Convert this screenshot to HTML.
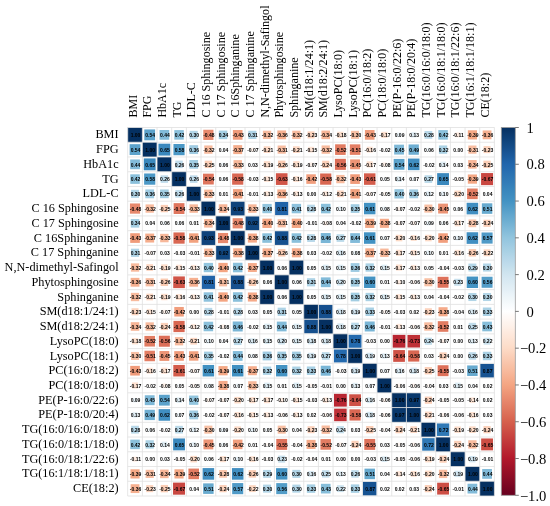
<!DOCTYPE html><html><head><meta charset="utf-8"><style>html,body{margin:0;padding:0;background:#fff;}svg{display:block;}.lab{font-family:"Liberation Serif",serif;font-size:12.25px;fill:#000;}.num{font-family:"Liberation Sans",sans-serif;font-size:5.0px;font-weight:bold;fill:#000;text-anchor:middle;}.cl{font-family:"Liberation Serif",serif;font-size:14.6px;fill:#000;}</style></head><body>
<svg width="550" height="506" viewBox="0 0 550 506">
<rect x="0" y="0" width="550" height="506" fill="#fff"/>
<rect x="127.70" y="127.50" width="14.67" height="14.74" fill="#053061"/><rect x="144.31" y="129.45" width="10.78" height="10.83" fill="#5ba2cb"/><rect x="159.51" y="129.98" width="9.73" height="9.78" fill="#82bbd9"/><rect x="174.29" y="130.09" width="9.51" height="9.55" fill="#8ac0db"/><rect x="189.69" y="130.83" width="8.03" height="8.07" fill="#b2d5e7"/><rect x="203.29" y="129.76" width="10.16" height="10.21" fill="#e8896d"/><rect x="218.77" y="130.57" width="8.55" height="8.59" fill="#a5cfe3"/><rect x="232.90" y="130.04" width="9.62" height="9.67" fill="#f09b7a"/><rect x="248.29" y="130.77" width="8.17" height="8.21" fill="#aed3e6"/><rect x="262.90" y="130.70" width="8.30" height="8.34" fill="#f8bb9e"/><rect x="277.31" y="130.45" width="8.80" height="8.84" fill="#f6b090"/><rect x="292.23" y="130.70" width="8.30" height="8.34" fill="#f8bb9e"/><rect x="307.53" y="131.34" width="7.03" height="7.07" fill="#fcd3bd"/><rect x="321.44" y="130.57" width="8.55" height="8.59" fill="#f7b597"/><rect x="337.27" y="131.74" width="6.22" height="6.25" fill="#fddfcd"/><rect x="351.04" y="130.83" width="8.03" height="8.07" fill="#f8c0a4"/><rect x="364.91" y="130.04" width="9.62" height="9.67" fill="#f09b7a"/><rect x="381.37" y="131.83" width="6.05" height="6.08" fill="#fde0cf"/><rect x="396.86" y="132.66" width="4.40" height="4.42" fill="#eaf3f8"/><rect x="411.08" y="132.21" width="5.29" height="5.31" fill="#e1eef5"/><rect x="424.51" y="130.97" width="7.76" height="7.80" fill="#b8d8e9"/><rect x="438.31" y="130.09" width="9.51" height="9.55" fill="#8ac0db"/><rect x="455.30" y="132.43" width="4.86" height="4.89" fill="#feebe0"/><rect x="467.82" y="130.27" width="9.16" height="9.21" fill="#f4a885"/><rect x="482.67" y="130.45" width="8.80" height="8.84" fill="#f6b090"/><rect x="129.64" y="144.19" width="10.78" height="10.83" fill="#5ba2cb"/><rect x="142.37" y="142.24" width="14.67" height="14.74" fill="#053061"/><rect x="158.46" y="143.67" width="11.83" height="11.88" fill="#3a88bd"/><rect x="173.45" y="144.00" width="11.17" height="11.23" fill="#4b98c6"/><rect x="189.31" y="145.19" width="8.80" height="8.84" fill="#9fcbe2"/><rect x="204.23" y="145.44" width="8.30" height="8.34" fill="#f8bb9e"/><rect x="221.58" y="148.14" width="2.93" height="2.95" fill="#f6fafc"/><rect x="233.25" y="145.13" width="8.92" height="8.97" fill="#f5ad8c"/><rect x="250.44" y="147.66" width="3.88" height="3.90" fill="#fef2eb"/><rect x="263.69" y="146.23" width="6.72" height="6.75" fill="#fdd8c4"/><rect x="277.63" y="145.51" width="8.17" height="8.21" fill="#f8bda1"/><rect x="293.02" y="146.23" width="6.72" height="6.75" fill="#fdd8c4"/><rect x="308.21" y="146.76" width="5.68" height="5.71" fill="#fee4d5"/><rect x="321.57" y="145.44" width="8.30" height="8.34" fill="#f8bb9e"/><rect x="335.10" y="144.30" width="10.58" height="10.63" fill="#e27c62"/><rect x="349.82" y="144.35" width="10.48" height="10.53" fill="#e47f65"/><rect x="366.79" y="146.66" width="5.87" height="5.90" fill="#fde2d2"/><rect x="383.35" y="148.57" width="2.07" height="2.08" fill="#fffbf9"/><rect x="394.14" y="144.67" width="9.84" height="9.89" fill="#7eb8d7"/><rect x="408.59" y="144.45" width="10.27" height="10.32" fill="#6eaed2"/><rect x="426.60" y="147.80" width="3.59" height="3.61" fill="#f1f7fa"/><rect x="438.91" y="145.44" width="8.30" height="8.34" fill="#abd2e5"/><rect x="468.31" y="145.51" width="8.17" height="8.21" fill="#f8bda1"/><rect x="483.55" y="146.08" width="7.03" height="7.07" fill="#fcd3bd"/><rect x="130.17" y="159.46" width="9.73" height="9.78" fill="#82bbd9"/><rect x="143.79" y="158.41" width="11.83" height="11.88" fill="#3a88bd"/><rect x="157.04" y="156.98" width="14.67" height="14.74" fill="#053061"/><rect x="175.30" y="160.59" width="7.48" height="7.52" fill="#bedbeb"/><rect x="189.37" y="159.99" width="8.68" height="8.72" fill="#a2cde2"/><rect x="204.71" y="160.66" width="7.33" height="7.37" fill="#fbceb6"/><rect x="221.25" y="162.54" width="3.59" height="3.61" fill="#f1f7fa"/><rect x="233.50" y="160.12" width="8.43" height="8.47" fill="#f7b89a"/><rect x="251.11" y="163.07" width="2.54" height="2.55" fill="#f8fbfd"/><rect x="263.85" y="161.14" width="6.39" height="6.43" fill="#fdddca"/><rect x="277.97" y="160.59" width="7.48" height="7.52" fill="#facbb2"/><rect x="293.19" y="161.14" width="6.39" height="6.43" fill="#fdddca"/><rect x="309.11" y="162.40" width="3.88" height="3.90" fill="#fef2eb"/><rect x="322.13" y="160.74" width="7.19" height="7.22" fill="#fbd0b9"/><rect x="334.90" y="158.83" width="10.98" height="11.03" fill="#dc6e58"/><rect x="350.13" y="159.41" width="9.84" height="9.89" fill="#ec9475"/><rect x="366.70" y="161.31" width="6.05" height="6.08" fill="#fde0cf"/><rect x="382.32" y="162.27" width="4.15" height="4.17" fill="#fef1e9"/><rect x="393.67" y="158.93" width="10.78" height="10.83" fill="#5ba2cb"/><rect x="407.95" y="158.55" width="11.55" height="11.61" fill="#408ec1"/><rect x="427.36" y="163.31" width="2.07" height="2.08" fill="#fffbf9"/><rect x="440.32" y="161.59" width="5.49" height="5.52" fill="#dfedf4"/><rect x="456.46" y="163.07" width="2.54" height="2.55" fill="#f8fbfd"/><rect x="468.12" y="160.05" width="8.55" height="8.59" fill="#f7b597"/><rect x="483.40" y="160.66" width="7.33" height="7.37" fill="#fbceb6"/><rect x="130.28" y="174.31" width="9.51" height="9.55" fill="#8ac0db"/><rect x="144.12" y="173.48" width="11.17" height="11.23" fill="#4b98c6"/><rect x="160.63" y="175.33" width="7.48" height="7.52" fill="#bedbeb"/><rect x="171.70" y="171.72" width="14.67" height="14.74" fill="#053061"/><rect x="189.97" y="175.33" width="7.48" height="7.52" fill="#bedbeb"/><rect x="202.98" y="173.67" width="10.78" height="10.83" fill="#df755d"/><rect x="221.25" y="177.28" width="3.59" height="3.61" fill="#f1f7fa"/><rect x="232.12" y="173.48" width="11.17" height="11.23" fill="#d96752"/><rect x="251.11" y="177.81" width="2.54" height="2.55" fill="#fffaf7"/><rect x="264.21" y="176.24" width="5.68" height="5.71" fill="#fee4d5"/><rect x="275.89" y="173.24" width="11.64" height="11.70" fill="#d15548"/><rect x="293.45" y="176.14" width="5.87" height="5.90" fill="#fde2d2"/><rect x="306.30" y="174.31" width="9.51" height="9.55" fill="#f19e7d"/><rect x="320.13" y="173.48" width="11.17" height="11.23" fill="#d96752"/><rect x="336.24" y="174.92" width="8.30" height="8.34" fill="#f8bb9e"/><rect x="350.24" y="174.26" width="9.62" height="9.67" fill="#f09b7a"/><rect x="363.99" y="173.33" width="11.46" height="11.51" fill="#d45c4b"/><rect x="382.75" y="177.44" width="3.28" height="3.30" fill="#f4f8fb"/><rect x="396.31" y="176.33" width="5.49" height="5.52" fill="#dfedf4"/><rect x="411.79" y="177.14" width="3.88" height="3.90" fill="#eff6fa"/><rect x="424.58" y="175.26" width="7.62" height="7.66" fill="#bbdaea"/><rect x="437.15" y="173.15" width="11.83" height="11.88" fill="#3a88bd"/><rect x="456.09" y="177.44" width="3.28" height="3.30" fill="#fef6f1"/><rect x="467.82" y="174.49" width="9.16" height="9.21" fill="#f4a885"/><rect x="481.06" y="173.06" width="12.01" height="12.07" fill="#c94741"/><rect x="131.02" y="189.79" width="8.03" height="8.07" fill="#b2d5e7"/><rect x="145.30" y="189.41" width="8.80" height="8.84" fill="#9fcbe2"/><rect x="160.03" y="189.47" width="8.68" height="8.72" fill="#a2cde2"/><rect x="175.30" y="190.07" width="7.48" height="7.52" fill="#bedbeb"/><rect x="186.37" y="186.46" width="14.67" height="14.74" fill="#053061"/><rect x="204.16" y="189.60" width="8.43" height="8.47" fill="#f7b89a"/><rect x="222.31" y="193.09" width="1.47" height="1.47" fill="#fdfefe"/><rect x="233.01" y="189.11" width="9.39" height="9.44" fill="#f2a27f"/><rect x="251.64" y="193.09" width="1.47" height="1.47" fill="#fffdfc"/><rect x="264.40" y="191.17" width="5.29" height="5.31" fill="#fee8db"/><rect x="277.31" y="189.41" width="8.80" height="8.84" fill="#f6b090"/><rect x="293.74" y="191.17" width="5.29" height="5.31" fill="#fee8db"/><rect x="323.18" y="191.28" width="5.08" height="5.11" fill="#fee9dd"/><rect x="337.03" y="190.45" width="6.72" height="6.75" fill="#fdd8c4"/><rect x="350.36" y="189.11" width="9.39" height="9.44" fill="#f2a27f"/><rect x="367.78" y="191.88" width="3.88" height="3.90" fill="#fef2eb"/><rect x="382.75" y="192.18" width="3.28" height="3.30" fill="#fef6f1"/><rect x="394.42" y="189.17" width="9.28" height="9.32" fill="#92c5de"/><rect x="409.33" y="189.41" width="8.80" height="8.84" fill="#9fcbe2"/><rect x="425.85" y="191.28" width="5.08" height="5.11" fill="#e3eff6"/><rect x="440.74" y="191.50" width="4.64" height="4.66" fill="#e8f2f8"/><rect x="454.45" y="190.53" width="6.56" height="6.59" fill="#fddbc7"/><rect x="467.11" y="188.52" width="10.58" height="10.63" fill="#e27c62"/><rect x="485.60" y="192.36" width="2.93" height="2.95" fill="#f6fafc"/><rect x="129.95" y="203.46" width="10.16" height="10.21" fill="#e8896d"/><rect x="145.55" y="204.40" width="8.30" height="8.34" fill="#f8bb9e"/><rect x="160.70" y="204.88" width="7.33" height="7.37" fill="#fbceb6"/><rect x="173.65" y="203.15" width="10.78" height="10.83" fill="#df755d"/><rect x="189.49" y="204.34" width="8.43" height="8.47" fill="#f7b89a"/><rect x="201.04" y="201.20" width="14.67" height="14.74" fill="#053061"/><rect x="218.77" y="204.27" width="8.55" height="8.59" fill="#f7b597"/><rect x="230.64" y="201.46" width="14.15" height="14.21" fill="#0f437b"/><rect x="248.16" y="204.34" width="8.43" height="8.47" fill="#f7b89a"/><rect x="262.41" y="203.91" width="9.28" height="9.32" fill="#92c5de"/><rect x="275.11" y="201.94" width="13.20" height="13.27" fill="#2063a8"/><rect x="291.69" y="203.85" width="9.39" height="9.44" fill="#8ec2dd"/><rect x="307.17" y="204.67" width="7.76" height="7.80" fill="#b8d8e9"/><rect x="320.97" y="203.79" width="9.51" height="9.55" fill="#8ac0db"/><rect x="338.07" y="206.24" width="4.64" height="4.66" fill="#e8f2f8"/><rect x="350.72" y="204.21" width="8.68" height="8.72" fill="#a2cde2"/><rect x="363.99" y="202.81" width="11.46" height="11.51" fill="#4191c2"/><rect x="382.32" y="206.49" width="4.15" height="4.17" fill="#edf5f9"/><rect x="397.12" y="206.62" width="3.88" height="3.90" fill="#fef2eb"/><rect x="412.69" y="207.53" width="2.07" height="2.08" fill="#fffbf9"/><rect x="424.38" y="204.53" width="8.03" height="8.07" fill="#f8c0a4"/><rect x="438.14" y="203.63" width="9.84" height="9.89" fill="#ec9475"/><rect x="455.93" y="206.76" width="3.59" height="3.61" fill="#f1f7fa"/><rect x="466.62" y="202.77" width="11.55" height="11.61" fill="#408ec1"/><rect x="481.83" y="203.31" width="10.48" height="10.53" fill="#67aacf"/><rect x="130.76" y="219.01" width="8.55" height="8.59" fill="#a5cfe3"/><rect x="148.24" y="221.84" width="2.93" height="2.95" fill="#f6fafc"/><rect x="162.57" y="221.50" width="3.59" height="3.61" fill="#f1f7fa"/><rect x="177.24" y="221.50" width="3.59" height="3.61" fill="#f1f7fa"/><rect x="192.97" y="222.57" width="1.47" height="1.47" fill="#fdfefe"/><rect x="204.10" y="219.01" width="8.55" height="8.59" fill="#f7b597"/><rect x="215.71" y="215.94" width="14.67" height="14.74" fill="#053061"/><rect x="232.63" y="218.20" width="10.16" height="10.21" fill="#e8896d"/><rect x="245.34" y="216.24" width="14.07" height="14.14" fill="#10467f"/><rect x="262.41" y="218.65" width="9.28" height="9.32" fill="#f4a582"/><rect x="277.63" y="219.21" width="8.17" height="8.21" fill="#f8bda1"/><rect x="291.74" y="218.65" width="9.28" height="9.32" fill="#f4a582"/><rect x="310.32" y="222.57" width="1.47" height="1.47" fill="#fffdfc"/><rect x="323.64" y="221.23" width="4.15" height="4.17" fill="#fef1e9"/><rect x="338.92" y="221.84" width="2.93" height="2.95" fill="#f6fafc"/><rect x="354.02" y="222.27" width="2.07" height="2.08" fill="#fffbf9"/><rect x="365.14" y="218.71" width="9.16" height="9.21" fill="#f4a885"/><rect x="379.87" y="218.77" width="9.04" height="9.09" fill="#f5aa89"/><rect x="397.12" y="221.36" width="3.88" height="3.90" fill="#fef2eb"/><rect x="411.79" y="221.36" width="3.88" height="3.90" fill="#fef2eb"/><rect x="426.19" y="221.10" width="4.40" height="4.42" fill="#eaf3f8"/><rect x="441.27" y="221.50" width="3.59" height="3.61" fill="#f1f7fa"/><rect x="454.71" y="220.27" width="6.05" height="6.08" fill="#fde0cf"/><rect x="468.52" y="219.41" width="7.76" height="7.80" fill="#f9c5ab"/><rect x="483.47" y="219.70" width="7.19" height="7.22" fill="#fbd0b9"/><rect x="130.22" y="233.22" width="9.62" height="9.67" fill="#f09b7a"/><rect x="145.24" y="233.57" width="8.92" height="8.97" fill="#f5ad8c"/><rect x="160.16" y="233.82" width="8.43" height="8.47" fill="#f7b89a"/><rect x="173.45" y="232.44" width="11.17" height="11.23" fill="#d96752"/><rect x="189.01" y="233.33" width="9.39" height="9.44" fill="#f2a27f"/><rect x="201.30" y="230.94" width="14.15" height="14.21" fill="#0f437b"/><rect x="217.96" y="232.94" width="10.16" height="10.21" fill="#e8896d"/><rect x="230.38" y="230.68" width="14.67" height="14.74" fill="#053061"/><rect x="247.86" y="233.51" width="9.04" height="9.09" fill="#f5aa89"/><rect x="262.29" y="233.27" width="9.51" height="9.55" fill="#8ac0db"/><rect x="274.83" y="231.14" width="13.76" height="13.83" fill="#16508e"/><rect x="291.63" y="233.27" width="9.51" height="9.55" fill="#8ac0db"/><rect x="307.17" y="234.15" width="7.76" height="7.80" fill="#b8d8e9"/><rect x="320.74" y="233.05" width="9.95" height="10.00" fill="#7ab6d6"/><rect x="336.58" y="234.22" width="7.62" height="7.66" fill="#bbdaea"/><rect x="350.19" y="233.16" width="9.73" height="9.78" fill="#82bbd9"/><rect x="363.99" y="232.29" width="11.46" height="11.51" fill="#4191c2"/><rect x="382.45" y="236.10" width="3.88" height="3.90" fill="#eff6fa"/><rect x="395.78" y="234.75" width="6.56" height="6.59" fill="#fddbc7"/><rect x="410.79" y="235.10" width="5.87" height="5.90" fill="#fde2d2"/><rect x="425.11" y="234.75" width="6.56" height="6.59" fill="#fddbc7"/><rect x="438.31" y="233.27" width="9.51" height="9.55" fill="#f19e7d"/><rect x="455.41" y="235.72" width="4.64" height="4.66" fill="#e8f2f8"/><rect x="466.62" y="232.25" width="11.55" height="11.61" fill="#408ec1"/><rect x="481.53" y="232.49" width="11.07" height="11.13" fill="#4f9ac7"/><rect x="130.95" y="248.69" width="8.17" height="8.21" fill="#aed3e6"/><rect x="147.76" y="250.84" width="3.88" height="3.90" fill="#fef2eb"/><rect x="163.10" y="251.51" width="2.54" height="2.55" fill="#f8fbfd"/><rect x="177.77" y="251.51" width="2.54" height="2.55" fill="#fffaf7"/><rect x="192.97" y="252.05" width="1.47" height="1.47" fill="#fffdfc"/><rect x="204.16" y="248.56" width="8.43" height="8.47" fill="#f7b89a"/><rect x="216.01" y="245.72" width="14.07" height="14.14" fill="#10467f"/><rect x="233.19" y="248.25" width="9.04" height="9.09" fill="#f5aa89"/><rect x="245.04" y="245.42" width="14.67" height="14.74" fill="#053061"/><rect x="262.58" y="248.31" width="8.92" height="8.97" fill="#f5ad8c"/><rect x="277.97" y="249.03" width="7.48" height="7.52" fill="#facbb2"/><rect x="291.86" y="248.25" width="9.04" height="9.09" fill="#f5aa89"/><rect x="309.78" y="251.51" width="2.54" height="2.55" fill="#f8fbfd"/><rect x="324.68" y="251.75" width="2.07" height="2.08" fill="#fffbf9"/><rect x="337.45" y="249.84" width="5.87" height="5.90" fill="#daeaf3"/><rect x="352.98" y="250.71" width="4.15" height="4.17" fill="#edf5f9"/><rect x="365.26" y="248.31" width="8.92" height="8.97" fill="#f5ad8c"/><rect x="380.18" y="248.56" width="8.43" height="8.47" fill="#f7b89a"/><rect x="396.03" y="249.75" width="6.05" height="6.08" fill="#fde0cf"/><rect x="410.89" y="249.94" width="5.68" height="5.71" fill="#fee4d5"/><rect x="426.07" y="250.46" width="4.64" height="4.66" fill="#e8f2f8"/><rect x="442.33" y="252.05" width="1.47" height="1.47" fill="#fdfefe"/><rect x="454.80" y="249.84" width="5.87" height="5.90" fill="#fde2d2"/><rect x="468.66" y="249.03" width="7.48" height="7.52" fill="#facbb2"/><rect x="483.63" y="249.33" width="6.88" height="6.91" fill="#fcd6c0"/><rect x="130.89" y="263.36" width="8.30" height="8.34" fill="#f8bb9e"/><rect x="146.34" y="264.15" width="6.72" height="6.75" fill="#fdd8c4"/><rect x="161.17" y="264.32" width="6.39" height="6.43" fill="#fdddca"/><rect x="176.20" y="264.68" width="5.68" height="5.71" fill="#fee4d5"/><rect x="191.06" y="264.87" width="5.29" height="5.31" fill="#fee8db"/><rect x="203.74" y="262.87" width="9.28" height="9.32" fill="#92c5de"/><rect x="218.40" y="262.87" width="9.28" height="9.32" fill="#f4a582"/><rect x="232.96" y="262.75" width="9.51" height="9.55" fill="#8ac0db"/><rect x="247.92" y="263.05" width="8.92" height="8.97" fill="#f5ad8c"/><rect x="259.71" y="260.16" width="14.67" height="14.74" fill="#053061"/><rect x="279.92" y="265.72" width="3.59" height="3.61" fill="#f1f7fa"/><rect x="289.05" y="260.16" width="14.67" height="14.74" fill="#053061"/><rect x="309.41" y="265.88" width="3.28" height="3.30" fill="#f4f8fb"/><rect x="322.88" y="264.68" width="5.68" height="5.71" fill="#dcecf4"/><rect x="337.55" y="264.68" width="5.68" height="5.71" fill="#dcecf4"/><rect x="350.65" y="263.11" width="8.80" height="8.84" fill="#9fcbe2"/><rect x="365.57" y="263.36" width="8.30" height="8.34" fill="#abd2e5"/><rect x="381.55" y="264.68" width="5.68" height="5.71" fill="#dcecf4"/><rect x="396.03" y="264.49" width="6.05" height="6.08" fill="#fde0cf"/><rect x="411.08" y="264.87" width="5.29" height="5.31" fill="#fee8db"/><rect x="426.75" y="265.88" width="3.28" height="3.30" fill="#f4f8fb"/><rect x="441.60" y="266.06" width="2.93" height="2.95" fill="#fff8f4"/><rect x="456.46" y="266.25" width="2.54" height="2.55" fill="#fffaf7"/><rect x="468.45" y="263.56" width="7.90" height="7.94" fill="#b5d7e8"/><rect x="483.05" y="263.49" width="8.03" height="8.07" fill="#b2d5e7"/><rect x="130.63" y="277.85" width="8.80" height="8.84" fill="#f6b090"/><rect x="145.62" y="278.17" width="8.17" height="8.21" fill="#f8bda1"/><rect x="160.63" y="278.51" width="7.48" height="7.52" fill="#facbb2"/><rect x="173.22" y="276.42" width="11.64" height="11.70" fill="#d15548"/><rect x="189.31" y="277.85" width="8.80" height="8.84" fill="#f6b090"/><rect x="201.77" y="275.64" width="13.20" height="13.27" fill="#2063a8"/><rect x="218.96" y="278.17" width="8.17" height="8.21" fill="#f8bda1"/><rect x="230.83" y="275.36" width="13.76" height="13.83" fill="#16508e"/><rect x="248.64" y="278.51" width="7.48" height="7.52" fill="#facbb2"/><rect x="265.25" y="280.46" width="3.59" height="3.61" fill="#f1f7fa"/><rect x="274.38" y="274.90" width="14.67" height="14.74" fill="#053061"/><rect x="294.59" y="280.46" width="3.59" height="3.61" fill="#f1f7fa"/><rect x="306.97" y="278.17" width="8.17" height="8.21" fill="#aed3e6"/><rect x="320.85" y="277.38" width="9.73" height="9.78" fill="#82bbd9"/><rect x="337.11" y="278.97" width="6.56" height="6.59" fill="#d1e5f0"/><rect x="350.72" y="277.91" width="8.68" height="8.72" fill="#a2cde2"/><rect x="364.04" y="276.56" width="11.36" height="11.42" fill="#4393c3"/><rect x="383.66" y="281.53" width="1.47" height="1.47" fill="#fdfefe"/><rect x="396.74" y="279.94" width="4.64" height="4.66" fill="#feede3"/><rect x="411.93" y="280.46" width="3.59" height="3.61" fill="#fef4ee"/><rect x="424.38" y="278.23" width="8.03" height="8.07" fill="#f8c0a4"/><rect x="437.62" y="276.80" width="10.88" height="10.93" fill="#de715a"/><rect x="454.21" y="278.74" width="7.03" height="7.07" fill="#c8e0ed"/><rect x="466.72" y="276.56" width="11.36" height="11.42" fill="#4393c3"/><rect x="481.58" y="276.75" width="10.98" height="11.03" fill="#539dc8"/><rect x="130.89" y="292.84" width="8.30" height="8.34" fill="#f8bb9e"/><rect x="146.34" y="293.63" width="6.72" height="6.75" fill="#fdd8c4"/><rect x="161.17" y="293.80" width="6.39" height="6.43" fill="#fdddca"/><rect x="176.10" y="294.06" width="5.87" height="5.90" fill="#fde2d2"/><rect x="191.06" y="294.35" width="5.29" height="5.31" fill="#fee8db"/><rect x="203.68" y="292.29" width="9.39" height="9.44" fill="#8ec2dd"/><rect x="218.40" y="292.35" width="9.28" height="9.32" fill="#f4a582"/><rect x="232.96" y="292.23" width="9.51" height="9.55" fill="#8ac0db"/><rect x="247.86" y="292.47" width="9.04" height="9.09" fill="#f5aa89"/><rect x="259.71" y="289.64" width="14.67" height="14.74" fill="#053061"/><rect x="279.92" y="295.20" width="3.59" height="3.61" fill="#f1f7fa"/><rect x="289.05" y="289.64" width="14.67" height="14.74" fill="#053061"/><rect x="309.41" y="295.36" width="3.28" height="3.30" fill="#f4f8fb"/><rect x="322.88" y="294.16" width="5.68" height="5.71" fill="#dcecf4"/><rect x="337.55" y="294.16" width="5.68" height="5.71" fill="#dcecf4"/><rect x="350.72" y="292.65" width="8.68" height="8.72" fill="#a2cde2"/><rect x="365.57" y="292.84" width="8.30" height="8.34" fill="#abd2e5"/><rect x="381.55" y="294.16" width="5.68" height="5.71" fill="#dcecf4"/><rect x="396.22" y="294.16" width="5.68" height="5.71" fill="#fee4d5"/><rect x="411.08" y="294.35" width="5.29" height="5.31" fill="#fee8db"/><rect x="426.93" y="295.54" width="2.93" height="2.95" fill="#f6fafc"/><rect x="441.60" y="295.54" width="2.93" height="2.95" fill="#fff8f4"/><rect x="456.69" y="295.97" width="2.07" height="2.08" fill="#fffbf9"/><rect x="468.38" y="292.97" width="8.03" height="8.07" fill="#b2d5e7"/><rect x="483.05" y="292.97" width="8.03" height="8.07" fill="#b2d5e7"/><rect x="131.52" y="308.22" width="7.03" height="7.07" fill="#fcd3bd"/><rect x="146.86" y="308.90" width="5.68" height="5.71" fill="#fee4d5"/><rect x="162.43" y="309.80" width="3.88" height="3.90" fill="#fef2eb"/><rect x="174.29" y="306.97" width="9.51" height="9.55" fill="#f19e7d"/><rect x="204.49" y="307.85" width="7.76" height="7.80" fill="#b8d8e9"/><rect x="222.31" y="311.01" width="1.47" height="1.47" fill="#fffdfc"/><rect x="233.83" y="307.85" width="7.76" height="7.80" fill="#b8d8e9"/><rect x="251.11" y="310.47" width="2.54" height="2.55" fill="#f8fbfd"/><rect x="265.41" y="310.10" width="3.28" height="3.30" fill="#f4f8fb"/><rect x="277.63" y="307.65" width="8.17" height="8.21" fill="#aed3e6"/><rect x="294.74" y="310.10" width="3.28" height="3.30" fill="#f4f8fb"/><rect x="303.72" y="304.38" width="14.67" height="14.74" fill="#053061"/><rect x="318.84" y="304.84" width="13.76" height="13.83" fill="#16508e"/><rect x="337.27" y="308.62" width="6.22" height="6.25" fill="#d6e8f2"/><rect x="351.86" y="308.54" width="6.39" height="6.43" fill="#d3e6f1"/><rect x="365.51" y="307.52" width="8.43" height="8.47" fill="#a8d0e4"/><rect x="382.75" y="310.10" width="3.28" height="3.30" fill="#fef6f1"/><rect x="397.79" y="310.47" width="2.54" height="2.55" fill="#fffaf7"/><rect x="412.69" y="310.71" width="2.07" height="2.08" fill="#fafcfe"/><rect x="424.88" y="308.22" width="7.03" height="7.07" fill="#fcd3bd"/><rect x="438.54" y="307.21" width="9.04" height="9.09" fill="#f5aa89"/><rect x="456.26" y="310.28" width="2.93" height="2.95" fill="#fff8f4"/><rect x="469.46" y="308.80" width="5.87" height="5.90" fill="#daeaf3"/><rect x="482.85" y="307.52" width="8.43" height="8.47" fill="#a8d0e4"/><rect x="130.76" y="322.19" width="8.55" height="8.59" fill="#f7b597"/><rect x="145.55" y="322.32" width="8.30" height="8.34" fill="#f8bb9e"/><rect x="160.78" y="322.88" width="7.19" height="7.22" fill="#fbd0b9"/><rect x="173.45" y="320.88" width="11.17" height="11.23" fill="#d96752"/><rect x="191.17" y="323.94" width="5.08" height="5.11" fill="#fee9dd"/><rect x="203.62" y="321.71" width="9.51" height="9.55" fill="#8ac0db"/><rect x="220.97" y="324.41" width="4.15" height="4.17" fill="#fef1e9"/><rect x="232.74" y="321.49" width="9.95" height="10.00" fill="#7ab6d6"/><rect x="251.34" y="325.45" width="2.07" height="2.08" fill="#fffbf9"/><rect x="264.21" y="323.64" width="5.68" height="5.71" fill="#dcecf4"/><rect x="276.85" y="321.60" width="9.73" height="9.78" fill="#82bbd9"/><rect x="293.54" y="323.64" width="5.68" height="5.71" fill="#dcecf4"/><rect x="304.17" y="319.58" width="13.76" height="13.83" fill="#16508e"/><rect x="318.38" y="319.12" width="14.67" height="14.74" fill="#053061"/><rect x="337.27" y="323.36" width="6.22" height="6.25" fill="#d6e8f2"/><rect x="351.24" y="322.66" width="7.62" height="7.66" fill="#bbdaea"/><rect x="364.75" y="321.49" width="9.95" height="10.00" fill="#7ab6d6"/><rect x="383.66" y="325.75" width="1.47" height="1.47" fill="#fffdfc"/><rect x="396.41" y="323.83" width="5.29" height="5.31" fill="#fee8db"/><rect x="411.93" y="324.68" width="3.59" height="3.61" fill="#fef4ee"/><rect x="424.25" y="322.32" width="8.30" height="8.34" fill="#f8bb9e"/><rect x="437.77" y="321.18" width="10.58" height="10.63" fill="#e27c62"/><rect x="457.00" y="325.75" width="1.47" height="1.47" fill="#fdfefe"/><rect x="468.73" y="322.81" width="7.33" height="7.37" fill="#c1ddec"/><rect x="482.26" y="321.66" width="9.62" height="9.67" fill="#86beda"/><rect x="131.92" y="338.10" width="6.22" height="6.25" fill="#fddfcd"/><rect x="144.41" y="335.92" width="10.58" height="10.63" fill="#e27c62"/><rect x="158.88" y="335.71" width="10.98" height="11.03" fill="#dc6e58"/><rect x="174.89" y="337.06" width="8.30" height="8.34" fill="#f8bb9e"/><rect x="190.35" y="337.85" width="6.72" height="6.75" fill="#fdd8c4"/><rect x="206.05" y="338.90" width="4.64" height="4.66" fill="#e8f2f8"/><rect x="221.58" y="339.76" width="2.93" height="2.95" fill="#f6fafc"/><rect x="233.90" y="337.40" width="7.62" height="7.66" fill="#bbdaea"/><rect x="249.44" y="338.28" width="5.87" height="5.90" fill="#daeaf3"/><rect x="264.21" y="338.38" width="5.68" height="5.71" fill="#dcecf4"/><rect x="278.43" y="337.93" width="6.56" height="6.59" fill="#d1e5f0"/><rect x="293.54" y="338.38" width="5.68" height="5.71" fill="#dcecf4"/><rect x="307.94" y="338.10" width="6.22" height="6.25" fill="#d6e8f2"/><rect x="322.61" y="338.10" width="6.22" height="6.25" fill="#d6e8f2"/><rect x="333.05" y="333.86" width="14.67" height="14.74" fill="#053061"/><rect x="348.58" y="334.72" width="12.95" height="13.02" fill="#246aae"/><rect x="368.45" y="339.95" width="2.54" height="2.55" fill="#fffaf7"/><rect x="392.66" y="334.80" width="12.79" height="12.85" fill="#b92632"/><rect x="407.46" y="334.93" width="12.53" height="12.59" fill="#bf3137"/><rect x="424.80" y="337.62" width="7.19" height="7.22" fill="#c4dfec"/><rect x="441.12" y="339.28" width="3.88" height="3.90" fill="#fef2eb"/><rect x="469.75" y="338.57" width="5.29" height="5.31" fill="#e1eef5"/><rect x="483.63" y="337.77" width="6.88" height="6.91" fill="#cbe2ee"/><rect x="131.02" y="351.93" width="8.03" height="8.07" fill="#f8c0a4"/><rect x="144.46" y="350.71" width="10.48" height="10.53" fill="#e47f65"/><rect x="159.45" y="351.03" width="9.84" height="9.89" fill="#ec9475"/><rect x="174.23" y="351.14" width="9.62" height="9.67" fill="#f09b7a"/><rect x="189.01" y="351.25" width="9.39" height="9.44" fill="#f2a27f"/><rect x="204.04" y="351.61" width="8.68" height="8.72" fill="#a2cde2"/><rect x="222.00" y="354.93" width="2.07" height="2.08" fill="#fffbf9"/><rect x="232.85" y="351.08" width="9.73" height="9.78" fill="#82bbd9"/><rect x="250.30" y="353.89" width="4.15" height="4.17" fill="#edf5f9"/><rect x="262.65" y="351.55" width="8.80" height="8.84" fill="#9fcbe2"/><rect x="277.38" y="351.61" width="8.68" height="8.72" fill="#a2cde2"/><rect x="292.04" y="351.61" width="8.68" height="8.72" fill="#a2cde2"/><rect x="307.85" y="352.76" width="6.39" height="6.43" fill="#d3e6f1"/><rect x="321.91" y="352.14" width="7.62" height="7.66" fill="#bbdaea"/><rect x="333.91" y="349.46" width="12.95" height="13.02" fill="#246aae"/><rect x="347.72" y="348.60" width="14.67" height="14.74" fill="#053061"/><rect x="366.53" y="352.76" width="6.39" height="6.43" fill="#d3e6f1"/><rect x="381.75" y="353.31" width="5.29" height="5.31" fill="#e1eef5"/><rect x="393.19" y="350.07" width="11.73" height="11.79" fill="#cf5246"/><rect x="408.14" y="350.36" width="11.17" height="11.23" fill="#d96752"/><rect x="427.12" y="354.69" width="2.54" height="2.55" fill="#f8fbfd"/><rect x="439.47" y="352.36" width="7.19" height="7.22" fill="#fbd0b9"/><rect x="468.66" y="352.21" width="7.48" height="7.52" fill="#bedbeb"/><rect x="482.85" y="351.74" width="8.43" height="8.47" fill="#a8d0e4"/><rect x="130.22" y="365.88" width="9.62" height="9.67" fill="#f09b7a"/><rect x="146.77" y="367.76" width="5.87" height="5.90" fill="#fde2d2"/><rect x="161.35" y="367.67" width="6.05" height="6.08" fill="#fde0cf"/><rect x="173.31" y="364.95" width="11.46" height="11.51" fill="#d45c4b"/><rect x="191.77" y="368.76" width="3.88" height="3.90" fill="#fef2eb"/><rect x="202.65" y="364.95" width="11.46" height="11.51" fill="#4191c2"/><rect x="218.46" y="366.11" width="9.16" height="9.21" fill="#f4a885"/><rect x="231.98" y="364.95" width="11.46" height="11.51" fill="#4191c2"/><rect x="247.92" y="366.23" width="8.92" height="8.97" fill="#f5ad8c"/><rect x="262.90" y="366.54" width="8.30" height="8.34" fill="#abd2e5"/><rect x="276.03" y="365.00" width="11.36" height="11.42" fill="#4393c3"/><rect x="292.23" y="366.54" width="8.30" height="8.34" fill="#abd2e5"/><rect x="306.84" y="366.48" width="8.43" height="8.47" fill="#a8d0e4"/><rect x="320.74" y="365.71" width="9.95" height="10.00" fill="#7ab6d6"/><rect x="339.12" y="369.43" width="2.54" height="2.55" fill="#fffaf7"/><rect x="351.86" y="367.50" width="6.39" height="6.43" fill="#d3e6f1"/><rect x="362.39" y="363.34" width="14.67" height="14.74" fill="#053061"/><rect x="382.45" y="368.76" width="3.88" height="3.90" fill="#eff6fa"/><rect x="396.12" y="367.76" width="5.87" height="5.90" fill="#daeaf3"/><rect x="410.61" y="367.58" width="6.22" height="6.25" fill="#d6e8f2"/><rect x="424.73" y="367.03" width="7.33" height="7.37" fill="#fbceb6"/><rect x="437.62" y="365.24" width="10.88" height="10.93" fill="#de715a"/><rect x="456.46" y="369.43" width="2.54" height="2.55" fill="#fffaf7"/><rect x="467.16" y="365.45" width="10.48" height="10.53" fill="#67aacf"/><rect x="480.23" y="363.84" width="13.68" height="13.75" fill="#175392"/><rect x="132.01" y="382.41" width="6.05" height="6.08" fill="#fde0cf"/><rect x="148.66" y="384.41" width="2.07" height="2.08" fill="#fffbf9"/><rect x="162.30" y="383.37" width="4.15" height="4.17" fill="#fef1e9"/><rect x="177.40" y="383.80" width="3.28" height="3.30" fill="#f4f8fb"/><rect x="192.07" y="383.80" width="3.28" height="3.30" fill="#fef6f1"/><rect x="206.30" y="383.37" width="4.15" height="4.17" fill="#edf5f9"/><rect x="218.52" y="380.91" width="9.04" height="9.09" fill="#f5aa89"/><rect x="235.77" y="383.50" width="3.88" height="3.90" fill="#eff6fa"/><rect x="248.16" y="381.22" width="8.43" height="8.47" fill="#f7b89a"/><rect x="264.21" y="382.60" width="5.68" height="5.71" fill="#dcecf4"/><rect x="280.98" y="384.71" width="1.47" height="1.47" fill="#fdfefe"/><rect x="293.54" y="382.60" width="5.68" height="5.71" fill="#dcecf4"/><rect x="309.41" y="383.80" width="3.28" height="3.30" fill="#fef6f1"/><rect x="324.98" y="384.71" width="1.47" height="1.47" fill="#fffdfc"/><rect x="352.41" y="382.79" width="5.29" height="5.31" fill="#e1eef5"/><rect x="367.78" y="383.50" width="3.88" height="3.90" fill="#eff6fa"/><rect x="377.06" y="378.08" width="14.67" height="14.74" fill="#053061"/><rect x="397.26" y="383.64" width="3.59" height="3.61" fill="#fef4ee"/><rect x="411.93" y="383.64" width="3.59" height="3.61" fill="#fef4ee"/><rect x="426.93" y="383.98" width="2.93" height="2.95" fill="#fff8f4"/><rect x="441.79" y="384.17" width="2.54" height="2.55" fill="#f8fbfd"/><rect x="454.89" y="382.60" width="5.68" height="5.71" fill="#dcecf4"/><rect x="470.93" y="383.98" width="2.93" height="2.95" fill="#f6fafc"/><rect x="486.03" y="384.41" width="2.07" height="2.08" fill="#fafcfe"/><rect x="132.83" y="397.98" width="4.40" height="4.42" fill="#eaf3f8"/><rect x="144.78" y="395.25" width="9.84" height="9.89" fill="#7eb8d7"/><rect x="158.98" y="394.77" width="10.78" height="10.83" fill="#5ba2cb"/><rect x="176.29" y="397.43" width="5.49" height="5.52" fill="#dfedf4"/><rect x="189.07" y="395.53" width="9.28" height="9.32" fill="#92c5de"/><rect x="206.43" y="398.24" width="3.88" height="3.90" fill="#fef2eb"/><rect x="221.10" y="398.24" width="3.88" height="3.90" fill="#fef2eb"/><rect x="234.43" y="396.89" width="6.56" height="6.59" fill="#fddbc7"/><rect x="249.35" y="397.15" width="6.05" height="6.08" fill="#fde0cf"/><rect x="264.02" y="397.15" width="6.05" height="6.08" fill="#fde0cf"/><rect x="279.39" y="397.86" width="4.64" height="4.66" fill="#feede3"/><rect x="293.54" y="397.34" width="5.68" height="5.71" fill="#fee4d5"/><rect x="309.78" y="398.91" width="2.54" height="2.55" fill="#fffaf7"/><rect x="323.07" y="397.53" width="5.29" height="5.31" fill="#fee8db"/><rect x="333.99" y="393.76" width="12.79" height="12.85" fill="#b92632"/><rect x="349.19" y="394.29" width="11.73" height="11.79" fill="#cf5246"/><rect x="366.79" y="397.24" width="5.87" height="5.90" fill="#daeaf3"/><rect x="382.59" y="398.38" width="3.59" height="3.61" fill="#fef4ee"/><rect x="391.72" y="392.82" width="14.67" height="14.74" fill="#053061"/><rect x="406.50" y="392.93" width="14.45" height="14.52" fill="#09386c"/><rect x="424.80" y="396.58" width="7.19" height="7.22" fill="#fbd0b9"/><rect x="441.42" y="398.54" width="3.28" height="3.30" fill="#fef6f1"/><rect x="456.09" y="398.54" width="3.28" height="3.30" fill="#fef6f1"/><rect x="469.65" y="397.43" width="5.49" height="5.52" fill="#fee6d8"/><rect x="486.03" y="399.15" width="2.07" height="2.08" fill="#fafcfe"/><rect x="132.39" y="412.27" width="5.29" height="5.31" fill="#e1eef5"/><rect x="144.57" y="409.77" width="10.27" height="10.32" fill="#6eaed2"/><rect x="158.60" y="409.13" width="11.55" height="11.61" fill="#408ec1"/><rect x="177.10" y="412.98" width="3.88" height="3.90" fill="#eff6fa"/><rect x="189.31" y="410.51" width="8.80" height="8.84" fill="#9fcbe2"/><rect x="207.34" y="413.89" width="2.07" height="2.08" fill="#fffbf9"/><rect x="221.10" y="412.98" width="3.88" height="3.90" fill="#fef2eb"/><rect x="234.78" y="411.98" width="5.87" height="5.90" fill="#fde2d2"/><rect x="249.54" y="412.08" width="5.68" height="5.71" fill="#fee4d5"/><rect x="264.40" y="412.27" width="5.29" height="5.31" fill="#fee8db"/><rect x="279.92" y="413.12" width="3.59" height="3.61" fill="#fef4ee"/><rect x="293.74" y="412.27" width="5.29" height="5.31" fill="#fee8db"/><rect x="310.01" y="413.89" width="2.07" height="2.08" fill="#fafcfe"/><rect x="323.92" y="413.12" width="3.59" height="3.61" fill="#fef4ee"/><rect x="334.12" y="408.63" width="12.53" height="12.59" fill="#bf3137"/><rect x="349.47" y="409.32" width="11.17" height="11.23" fill="#d96752"/><rect x="366.61" y="411.80" width="6.22" height="6.25" fill="#d6e8f2"/><rect x="382.59" y="413.12" width="3.59" height="3.61" fill="#fef4ee"/><rect x="391.83" y="407.67" width="14.45" height="14.52" fill="#09386c"/><rect x="406.39" y="407.56" width="14.67" height="14.74" fill="#053061"/><rect x="425.03" y="411.55" width="6.72" height="6.75" fill="#fdd8c4"/><rect x="441.27" y="413.12" width="3.59" height="3.61" fill="#fef4ee"/><rect x="455.93" y="413.12" width="3.59" height="3.61" fill="#fef4ee"/><rect x="469.46" y="411.98" width="5.87" height="5.90" fill="#fde2d2"/><rect x="485.80" y="413.65" width="2.54" height="2.55" fill="#f8fbfd"/><rect x="131.15" y="425.77" width="7.76" height="7.80" fill="#b8d8e9"/><rect x="147.91" y="427.86" width="3.59" height="3.61" fill="#f1f7fa"/><rect x="163.33" y="428.63" width="2.07" height="2.08" fill="#fffbf9"/><rect x="175.23" y="425.84" width="7.62" height="7.66" fill="#bbdaea"/><rect x="191.17" y="427.12" width="5.08" height="5.11" fill="#e3eff6"/><rect x="204.36" y="425.63" width="8.03" height="8.07" fill="#f8c0a4"/><rect x="220.84" y="427.46" width="4.40" height="4.42" fill="#eaf3f8"/><rect x="234.43" y="426.37" width="6.56" height="6.59" fill="#fddbc7"/><rect x="250.06" y="427.34" width="4.64" height="4.66" fill="#e8f2f8"/><rect x="265.41" y="428.02" width="3.28" height="3.30" fill="#f4f8fb"/><rect x="277.70" y="425.63" width="8.03" height="8.07" fill="#f8c0a4"/><rect x="294.92" y="428.20" width="2.93" height="2.95" fill="#f6fafc"/><rect x="307.53" y="426.14" width="7.03" height="7.07" fill="#fcd3bd"/><rect x="321.57" y="425.50" width="8.30" height="8.34" fill="#f8bb9e"/><rect x="336.79" y="426.06" width="7.19" height="7.22" fill="#c4dfec"/><rect x="353.78" y="428.39" width="2.54" height="2.55" fill="#f8fbfd"/><rect x="366.06" y="425.99" width="7.33" height="7.37" fill="#fbceb6"/><rect x="382.92" y="428.20" width="2.93" height="2.95" fill="#fff8f4"/><rect x="395.47" y="426.06" width="7.19" height="7.22" fill="#fbd0b9"/><rect x="410.37" y="426.29" width="6.72" height="6.75" fill="#fdd8c4"/><rect x="421.06" y="422.30" width="14.67" height="14.74" fill="#053061"/><rect x="436.84" y="423.42" width="12.45" height="12.51" fill="#2f78b5"/><rect x="454.53" y="426.46" width="6.39" height="6.43" fill="#fdddca"/><rect x="469.12" y="426.37" width="6.56" height="6.59" fill="#fddbc7"/><rect x="483.47" y="426.06" width="7.19" height="7.22" fill="#fbd0b9"/><rect x="130.28" y="439.63" width="9.51" height="9.55" fill="#8ac0db"/><rect x="145.55" y="440.24" width="8.30" height="8.34" fill="#abd2e5"/><rect x="161.63" y="441.65" width="5.49" height="5.52" fill="#dfedf4"/><rect x="173.13" y="438.47" width="11.83" height="11.88" fill="#3a88bd"/><rect x="191.39" y="442.08" width="4.64" height="4.66" fill="#e8f2f8"/><rect x="203.45" y="439.47" width="9.84" height="9.89" fill="#ec9475"/><rect x="221.25" y="442.60" width="3.59" height="3.61" fill="#f1f7fa"/><rect x="232.96" y="439.63" width="9.51" height="9.55" fill="#f19e7d"/><rect x="251.64" y="443.67" width="1.47" height="1.47" fill="#fdfefe"/><rect x="265.58" y="442.94" width="2.93" height="2.95" fill="#fff8f4"/><rect x="276.27" y="438.94" width="10.88" height="10.93" fill="#de715a"/><rect x="294.92" y="442.94" width="2.93" height="2.95" fill="#fff8f4"/><rect x="306.53" y="439.87" width="9.04" height="9.09" fill="#f5aa89"/><rect x="320.43" y="439.10" width="10.58" height="10.63" fill="#e27c62"/><rect x="338.45" y="442.46" width="3.88" height="3.90" fill="#fef2eb"/><rect x="351.46" y="440.80" width="7.19" height="7.22" fill="#fbd0b9"/><rect x="364.28" y="438.94" width="10.88" height="10.93" fill="#de715a"/><rect x="383.12" y="443.13" width="2.54" height="2.55" fill="#f8fbfd"/><rect x="397.42" y="442.76" width="3.28" height="3.30" fill="#fef6f1"/><rect x="411.93" y="442.60" width="3.59" height="3.61" fill="#fef4ee"/><rect x="422.17" y="438.16" width="12.45" height="12.51" fill="#2f78b5"/><rect x="435.73" y="437.04" width="14.67" height="14.74" fill="#053061"/><rect x="454.14" y="440.80" width="7.19" height="7.22" fill="#fbd0b9"/><rect x="468.25" y="440.24" width="8.30" height="8.34" fill="#f8bb9e"/><rect x="481.15" y="438.47" width="11.83" height="11.88" fill="#cd4e44"/><rect x="132.60" y="456.71" width="4.86" height="4.89" fill="#feebe0"/><rect x="163.10" y="457.87" width="2.54" height="2.55" fill="#f8fbfd"/><rect x="177.40" y="457.50" width="3.28" height="3.30" fill="#fef6f1"/><rect x="190.43" y="455.85" width="6.56" height="6.59" fill="#fddbc7"/><rect x="206.58" y="457.34" width="3.59" height="3.61" fill="#f1f7fa"/><rect x="220.02" y="456.11" width="6.05" height="6.08" fill="#fde0cf"/><rect x="235.39" y="456.82" width="4.64" height="4.66" fill="#e8f2f8"/><rect x="249.44" y="456.20" width="5.87" height="5.90" fill="#fde2d2"/><rect x="265.78" y="457.87" width="2.54" height="2.55" fill="#fffaf7"/><rect x="278.20" y="455.62" width="7.03" height="7.07" fill="#c8e0ed"/><rect x="295.34" y="458.11" width="2.07" height="2.08" fill="#fffbf9"/><rect x="309.58" y="457.68" width="2.93" height="2.95" fill="#fff8f4"/><rect x="324.98" y="458.41" width="1.47" height="1.47" fill="#fdfefe"/><rect x="368.45" y="457.87" width="2.54" height="2.55" fill="#fffaf7"/><rect x="381.55" y="456.30" width="5.68" height="5.71" fill="#dcecf4"/><rect x="397.42" y="457.50" width="3.28" height="3.30" fill="#fef6f1"/><rect x="411.93" y="457.34" width="3.59" height="3.61" fill="#fef4ee"/><rect x="425.20" y="455.94" width="6.39" height="6.43" fill="#fdddca"/><rect x="439.47" y="455.54" width="7.19" height="7.22" fill="#fbd0b9"/><rect x="450.40" y="451.78" width="14.67" height="14.74" fill="#053061"/><rect x="469.20" y="455.94" width="6.39" height="6.43" fill="#d3e6f1"/><rect x="486.33" y="458.41" width="1.47" height="1.47" fill="#fffdfc"/><rect x="130.45" y="469.29" width="9.16" height="9.21" fill="#f4a885"/><rect x="145.62" y="469.79" width="8.17" height="8.21" fill="#f8bda1"/><rect x="160.09" y="469.59" width="8.55" height="8.59" fill="#f7b597"/><rect x="174.46" y="469.29" width="9.16" height="9.21" fill="#f4a885"/><rect x="188.42" y="468.58" width="10.58" height="10.63" fill="#e27c62"/><rect x="202.60" y="468.09" width="11.55" height="11.61" fill="#408ec1"/><rect x="219.16" y="469.99" width="7.76" height="7.80" fill="#f9c5ab"/><rect x="231.94" y="468.09" width="11.55" height="11.61" fill="#408ec1"/><rect x="248.64" y="470.13" width="7.48" height="7.52" fill="#facbb2"/><rect x="263.10" y="469.92" width="7.90" height="7.94" fill="#b5d7e8"/><rect x="276.03" y="468.18" width="11.36" height="11.42" fill="#4393c3"/><rect x="292.37" y="469.85" width="8.03" height="8.07" fill="#b2d5e7"/><rect x="308.12" y="470.94" width="5.87" height="5.90" fill="#daeaf3"/><rect x="322.05" y="470.20" width="7.33" height="7.37" fill="#c1ddec"/><rect x="337.74" y="471.23" width="5.29" height="5.31" fill="#e1eef5"/><rect x="351.31" y="470.13" width="7.48" height="7.52" fill="#bedbeb"/><rect x="364.48" y="468.63" width="10.48" height="10.53" fill="#67aacf"/><rect x="382.92" y="472.42" width="2.93" height="2.95" fill="#f6fafc"/><rect x="396.31" y="471.13" width="5.49" height="5.52" fill="#fee6d8"/><rect x="410.79" y="470.94" width="5.87" height="5.90" fill="#fde2d2"/><rect x="425.11" y="470.59" width="6.56" height="6.59" fill="#fddbc7"/><rect x="438.91" y="469.72" width="8.30" height="8.34" fill="#f8bb9e"/><rect x="454.53" y="470.68" width="6.39" height="6.43" fill="#d3e6f1"/><rect x="465.06" y="466.52" width="14.67" height="14.74" fill="#053061"/><rect x="482.20" y="469.00" width="9.73" height="9.78" fill="#82bbd9"/><rect x="130.63" y="484.21" width="8.80" height="8.84" fill="#f6b090"/><rect x="146.18" y="485.10" width="7.03" height="7.07" fill="#fcd3bd"/><rect x="160.70" y="484.94" width="7.33" height="7.37" fill="#fbceb6"/><rect x="173.03" y="482.60" width="12.01" height="12.07" fill="#c94741"/><rect x="192.24" y="487.16" width="2.93" height="2.95" fill="#f6fafc"/><rect x="203.14" y="483.37" width="10.48" height="10.53" fill="#67aacf"/><rect x="219.45" y="485.02" width="7.19" height="7.22" fill="#fbd0b9"/><rect x="232.17" y="483.07" width="11.07" height="11.13" fill="#4f9ac7"/><rect x="248.94" y="485.17" width="6.88" height="6.91" fill="#fcd6c0"/><rect x="263.03" y="484.59" width="8.03" height="8.07" fill="#b2d5e7"/><rect x="276.23" y="483.11" width="10.98" height="11.03" fill="#539dc8"/><rect x="292.37" y="484.59" width="8.03" height="8.07" fill="#b2d5e7"/><rect x="306.84" y="484.40" width="8.43" height="8.47" fill="#a8d0e4"/><rect x="320.91" y="483.80" width="9.62" height="9.67" fill="#86beda"/><rect x="336.95" y="485.17" width="6.88" height="6.91" fill="#cbe2ee"/><rect x="350.84" y="484.40" width="8.43" height="8.47" fill="#a8d0e4"/><rect x="362.88" y="481.76" width="13.68" height="13.75" fill="#175392"/><rect x="383.35" y="487.59" width="2.07" height="2.08" fill="#fafcfe"/><rect x="398.02" y="487.59" width="2.07" height="2.08" fill="#fafcfe"/><rect x="412.46" y="487.35" width="2.54" height="2.55" fill="#f8fbfd"/><rect x="424.80" y="485.02" width="7.19" height="7.22" fill="#fbd0b9"/><rect x="437.15" y="482.69" width="11.83" height="11.88" fill="#cd4e44"/><rect x="457.00" y="487.89" width="1.47" height="1.47" fill="#fffdfc"/><rect x="467.53" y="483.74" width="9.73" height="9.78" fill="#82bbd9"/><rect x="479.73" y="481.26" width="14.67" height="14.74" fill="#053061"/>
<path d="M127.70 127.50V496.00M127.70 127.50H494.40M142.37 127.50V496.00M127.70 142.24H494.40M157.04 127.50V496.00M127.70 156.98H494.40M171.70 127.50V496.00M127.70 171.72H494.40M186.37 127.50V496.00M127.70 186.46H494.40M201.04 127.50V496.00M127.70 201.20H494.40M215.71 127.50V496.00M127.70 215.94H494.40M230.38 127.50V496.00M127.70 230.68H494.40M245.04 127.50V496.00M127.70 245.42H494.40M259.71 127.50V496.00M127.70 260.16H494.40M274.38 127.50V496.00M127.70 274.90H494.40M289.05 127.50V496.00M127.70 289.64H494.40M303.72 127.50V496.00M127.70 304.38H494.40M318.38 127.50V496.00M127.70 319.12H494.40M333.05 127.50V496.00M127.70 333.86H494.40M347.72 127.50V496.00M127.70 348.60H494.40M362.39 127.50V496.00M127.70 363.34H494.40M377.06 127.50V496.00M127.70 378.08H494.40M391.72 127.50V496.00M127.70 392.82H494.40M406.39 127.50V496.00M127.70 407.56H494.40M421.06 127.50V496.00M127.70 422.30H494.40M435.73 127.50V496.00M127.70 437.04H494.40M450.40 127.50V496.00M127.70 451.78H494.40M465.06 127.50V496.00M127.70 466.52H494.40M479.73 127.50V496.00M127.70 481.26H494.40M494.40 127.50V496.00M127.70 496.00H494.40" stroke="#e0e0e0" stroke-width="0.8" fill="none"/>
<text class="num" x="135.53" y="137.02">1.00</text><text class="num" x="150.20" y="137.02">0.54</text><text class="num" x="164.87" y="137.02">0.44</text><text class="num" x="179.54" y="137.02">0.42</text><text class="num" x="194.21" y="137.02">0.30</text><text class="num" x="208.87" y="137.02">-0.48</text><text class="num" x="223.54" y="137.02">0.34</text><text class="num" x="238.21" y="137.02">-0.43</text><text class="num" x="252.88" y="137.02">0.31</text><text class="num" x="267.55" y="137.02">-0.32</text><text class="num" x="282.21" y="137.02">-0.36</text><text class="num" x="296.88" y="137.02">-0.32</text><text class="num" x="311.55" y="137.02">-0.23</text><text class="num" x="326.22" y="137.02">-0.34</text><text class="num" x="340.89" y="137.02">-0.18</text><text class="num" x="355.55" y="137.02">-0.30</text><text class="num" x="370.22" y="137.02">-0.43</text><text class="num" x="384.89" y="137.02">-0.17</text><text class="num" x="399.56" y="137.02">0.09</text><text class="num" x="414.23" y="137.02">0.13</text><text class="num" x="428.89" y="137.02">0.28</text><text class="num" x="443.56" y="137.02">0.42</text><text class="num" x="458.23" y="137.02">-0.11</text><text class="num" x="472.90" y="137.02">-0.39</text><text class="num" x="487.57" y="137.02">-0.36</text><text class="num" x="135.53" y="151.76">0.54</text><text class="num" x="150.20" y="151.76">1.00</text><text class="num" x="164.87" y="151.76">0.65</text><text class="num" x="179.54" y="151.76">0.58</text><text class="num" x="194.21" y="151.76">0.36</text><text class="num" x="208.87" y="151.76">-0.32</text><text class="num" x="223.54" y="151.76">0.04</text><text class="num" x="238.21" y="151.76">-0.37</text><text class="num" x="252.88" y="151.76">-0.07</text><text class="num" x="267.55" y="151.76">-0.21</text><text class="num" x="282.21" y="151.76">-0.31</text><text class="num" x="296.88" y="151.76">-0.21</text><text class="num" x="311.55" y="151.76">-0.15</text><text class="num" x="326.22" y="151.76">-0.32</text><text class="num" x="340.89" y="151.76">-0.52</text><text class="num" x="355.55" y="151.76">-0.51</text><text class="num" x="370.22" y="151.76">-0.16</text><text class="num" x="384.89" y="151.76">-0.02</text><text class="num" x="399.56" y="151.76">0.45</text><text class="num" x="414.23" y="151.76">0.49</text><text class="num" x="428.89" y="151.76">0.06</text><text class="num" x="443.56" y="151.76">0.32</text><text class="num" x="458.23" y="151.76">0.00</text><text class="num" x="472.90" y="151.76">-0.31</text><text class="num" x="487.57" y="151.76">-0.23</text><text class="num" x="135.53" y="166.50">0.44</text><text class="num" x="150.20" y="166.50">0.65</text><text class="num" x="164.87" y="166.50">1.00</text><text class="num" x="179.54" y="166.50">0.26</text><text class="num" x="194.21" y="166.50">0.35</text><text class="num" x="208.87" y="166.50">-0.25</text><text class="num" x="223.54" y="166.50">0.06</text><text class="num" x="238.21" y="166.50">-0.33</text><text class="num" x="252.88" y="166.50">0.03</text><text class="num" x="267.55" y="166.50">-0.19</text><text class="num" x="282.21" y="166.50">-0.26</text><text class="num" x="296.88" y="166.50">-0.19</text><text class="num" x="311.55" y="166.50">-0.07</text><text class="num" x="326.22" y="166.50">-0.24</text><text class="num" x="340.89" y="166.50">-0.56</text><text class="num" x="355.55" y="166.50">-0.45</text><text class="num" x="370.22" y="166.50">-0.17</text><text class="num" x="384.89" y="166.50">-0.08</text><text class="num" x="399.56" y="166.50">0.54</text><text class="num" x="414.23" y="166.50">0.62</text><text class="num" x="428.89" y="166.50">-0.02</text><text class="num" x="443.56" y="166.50">0.14</text><text class="num" x="458.23" y="166.50">0.03</text><text class="num" x="472.90" y="166.50">-0.34</text><text class="num" x="487.57" y="166.50">-0.25</text><text class="num" x="135.53" y="181.24">0.42</text><text class="num" x="150.20" y="181.24">0.58</text><text class="num" x="164.87" y="181.24">0.26</text><text class="num" x="179.54" y="181.24">1.00</text><text class="num" x="194.21" y="181.24">0.26</text><text class="num" x="208.87" y="181.24">-0.54</text><text class="num" x="223.54" y="181.24">0.06</text><text class="num" x="238.21" y="181.24">-0.58</text><text class="num" x="252.88" y="181.24">-0.03</text><text class="num" x="267.55" y="181.24">-0.15</text><text class="num" x="282.21" y="181.24">-0.63</text><text class="num" x="296.88" y="181.24">-0.16</text><text class="num" x="311.55" y="181.24">-0.42</text><text class="num" x="326.22" y="181.24">-0.58</text><text class="num" x="340.89" y="181.24">-0.32</text><text class="num" x="355.55" y="181.24">-0.43</text><text class="num" x="370.22" y="181.24">-0.61</text><text class="num" x="384.89" y="181.24">0.05</text><text class="num" x="399.56" y="181.24">0.14</text><text class="num" x="414.23" y="181.24">0.07</text><text class="num" x="428.89" y="181.24">0.27</text><text class="num" x="443.56" y="181.24">0.65</text><text class="num" x="458.23" y="181.24">-0.05</text><text class="num" x="472.90" y="181.24">-0.39</text><text class="num" x="487.57" y="181.24">-0.67</text><text class="num" x="135.53" y="195.98">0.30</text><text class="num" x="150.20" y="195.98">0.36</text><text class="num" x="164.87" y="195.98">0.35</text><text class="num" x="179.54" y="195.98">0.26</text><text class="num" x="194.21" y="195.98">1.00</text><text class="num" x="208.87" y="195.98">-0.33</text><text class="num" x="223.54" y="195.98">0.01</text><text class="num" x="238.21" y="195.98">-0.41</text><text class="num" x="252.88" y="195.98">-0.01</text><text class="num" x="267.55" y="195.98">-0.13</text><text class="num" x="282.21" y="195.98">-0.36</text><text class="num" x="296.88" y="195.98">-0.13</text><text class="num" x="311.55" y="195.98">0.00</text><text class="num" x="326.22" y="195.98">-0.12</text><text class="num" x="340.89" y="195.98">-0.21</text><text class="num" x="355.55" y="195.98">-0.41</text><text class="num" x="370.22" y="195.98">-0.07</text><text class="num" x="384.89" y="195.98">-0.05</text><text class="num" x="399.56" y="195.98">0.40</text><text class="num" x="414.23" y="195.98">0.36</text><text class="num" x="428.89" y="195.98">0.12</text><text class="num" x="443.56" y="195.98">0.10</text><text class="num" x="458.23" y="195.98">-0.20</text><text class="num" x="472.90" y="195.98">-0.52</text><text class="num" x="487.57" y="195.98">0.04</text><text class="num" x="135.53" y="210.72">-0.48</text><text class="num" x="150.20" y="210.72">-0.32</text><text class="num" x="164.87" y="210.72">-0.25</text><text class="num" x="179.54" y="210.72">-0.54</text><text class="num" x="194.21" y="210.72">-0.33</text><text class="num" x="208.87" y="210.72">1.00</text><text class="num" x="223.54" y="210.72">-0.34</text><text class="num" x="238.21" y="210.72">0.93</text><text class="num" x="252.88" y="210.72">-0.33</text><text class="num" x="267.55" y="210.72">0.40</text><text class="num" x="282.21" y="210.72">0.81</text><text class="num" x="296.88" y="210.72">0.41</text><text class="num" x="311.55" y="210.72">0.28</text><text class="num" x="326.22" y="210.72">0.42</text><text class="num" x="340.89" y="210.72">0.10</text><text class="num" x="355.55" y="210.72">0.35</text><text class="num" x="370.22" y="210.72">0.61</text><text class="num" x="384.89" y="210.72">0.08</text><text class="num" x="399.56" y="210.72">-0.07</text><text class="num" x="414.23" y="210.72">-0.02</text><text class="num" x="428.89" y="210.72">-0.30</text><text class="num" x="443.56" y="210.72">-0.45</text><text class="num" x="458.23" y="210.72">0.06</text><text class="num" x="472.90" y="210.72">0.62</text><text class="num" x="487.57" y="210.72">0.51</text><text class="num" x="135.53" y="225.46">0.34</text><text class="num" x="150.20" y="225.46">0.04</text><text class="num" x="164.87" y="225.46">0.06</text><text class="num" x="179.54" y="225.46">0.06</text><text class="num" x="194.21" y="225.46">0.01</text><text class="num" x="208.87" y="225.46">-0.34</text><text class="num" x="223.54" y="225.46">1.00</text><text class="num" x="238.21" y="225.46">-0.48</text><text class="num" x="252.88" y="225.46">0.92</text><text class="num" x="267.55" y="225.46">-0.40</text><text class="num" x="282.21" y="225.46">-0.31</text><text class="num" x="296.88" y="225.46">-0.40</text><text class="num" x="311.55" y="225.46">-0.01</text><text class="num" x="326.22" y="225.46">-0.08</text><text class="num" x="340.89" y="225.46">0.04</text><text class="num" x="355.55" y="225.46">-0.02</text><text class="num" x="370.22" y="225.46">-0.39</text><text class="num" x="384.89" y="225.46">-0.38</text><text class="num" x="399.56" y="225.46">-0.07</text><text class="num" x="414.23" y="225.46">-0.07</text><text class="num" x="428.89" y="225.46">0.09</text><text class="num" x="443.56" y="225.46">0.06</text><text class="num" x="458.23" y="225.46">-0.17</text><text class="num" x="472.90" y="225.46">-0.28</text><text class="num" x="487.57" y="225.46">-0.24</text><text class="num" x="135.53" y="240.20">-0.43</text><text class="num" x="150.20" y="240.20">-0.37</text><text class="num" x="164.87" y="240.20">-0.33</text><text class="num" x="179.54" y="240.20">-0.58</text><text class="num" x="194.21" y="240.20">-0.41</text><text class="num" x="208.87" y="240.20">0.93</text><text class="num" x="223.54" y="240.20">-0.48</text><text class="num" x="238.21" y="240.20">1.00</text><text class="num" x="252.88" y="240.20">-0.38</text><text class="num" x="267.55" y="240.20">0.42</text><text class="num" x="282.21" y="240.20">0.88</text><text class="num" x="296.88" y="240.20">0.42</text><text class="num" x="311.55" y="240.20">0.28</text><text class="num" x="326.22" y="240.20">0.46</text><text class="num" x="340.89" y="240.20">0.27</text><text class="num" x="355.55" y="240.20">0.44</text><text class="num" x="370.22" y="240.20">0.61</text><text class="num" x="384.89" y="240.20">0.07</text><text class="num" x="399.56" y="240.20">-0.20</text><text class="num" x="414.23" y="240.20">-0.16</text><text class="num" x="428.89" y="240.20">-0.20</text><text class="num" x="443.56" y="240.20">-0.42</text><text class="num" x="458.23" y="240.20">0.10</text><text class="num" x="472.90" y="240.20">0.62</text><text class="num" x="487.57" y="240.20">0.57</text><text class="num" x="135.53" y="254.94">0.31</text><text class="num" x="150.20" y="254.94">-0.07</text><text class="num" x="164.87" y="254.94">0.03</text><text class="num" x="179.54" y="254.94">-0.03</text><text class="num" x="194.21" y="254.94">-0.01</text><text class="num" x="208.87" y="254.94">-0.33</text><text class="num" x="223.54" y="254.94">0.92</text><text class="num" x="238.21" y="254.94">-0.38</text><text class="num" x="252.88" y="254.94">1.00</text><text class="num" x="267.55" y="254.94">-0.37</text><text class="num" x="282.21" y="254.94">-0.26</text><text class="num" x="296.88" y="254.94">-0.38</text><text class="num" x="311.55" y="254.94">0.03</text><text class="num" x="326.22" y="254.94">-0.02</text><text class="num" x="340.89" y="254.94">0.16</text><text class="num" x="355.55" y="254.94">0.08</text><text class="num" x="370.22" y="254.94">-0.37</text><text class="num" x="384.89" y="254.94">-0.33</text><text class="num" x="399.56" y="254.94">-0.17</text><text class="num" x="414.23" y="254.94">-0.15</text><text class="num" x="428.89" y="254.94">0.10</text><text class="num" x="443.56" y="254.94">0.01</text><text class="num" x="458.23" y="254.94">-0.16</text><text class="num" x="472.90" y="254.94">-0.26</text><text class="num" x="487.57" y="254.94">-0.22</text><text class="num" x="135.53" y="269.68">-0.32</text><text class="num" x="150.20" y="269.68">-0.21</text><text class="num" x="164.87" y="269.68">-0.19</text><text class="num" x="179.54" y="269.68">-0.15</text><text class="num" x="194.21" y="269.68">-0.13</text><text class="num" x="208.87" y="269.68">0.40</text><text class="num" x="223.54" y="269.68">-0.40</text><text class="num" x="238.21" y="269.68">0.42</text><text class="num" x="252.88" y="269.68">-0.37</text><text class="num" x="267.55" y="269.68">1.00</text><text class="num" x="282.21" y="269.68">0.06</text><text class="num" x="296.88" y="269.68">1.00</text><text class="num" x="311.55" y="269.68">0.05</text><text class="num" x="326.22" y="269.68">0.15</text><text class="num" x="340.89" y="269.68">0.15</text><text class="num" x="355.55" y="269.68">0.36</text><text class="num" x="370.22" y="269.68">0.32</text><text class="num" x="384.89" y="269.68">0.15</text><text class="num" x="399.56" y="269.68">-0.17</text><text class="num" x="414.23" y="269.68">-0.13</text><text class="num" x="428.89" y="269.68">0.05</text><text class="num" x="443.56" y="269.68">-0.04</text><text class="num" x="458.23" y="269.68">-0.03</text><text class="num" x="472.90" y="269.68">0.29</text><text class="num" x="487.57" y="269.68">0.30</text><text class="num" x="135.53" y="284.42">-0.36</text><text class="num" x="150.20" y="284.42">-0.31</text><text class="num" x="164.87" y="284.42">-0.26</text><text class="num" x="179.54" y="284.42">-0.63</text><text class="num" x="194.21" y="284.42">-0.36</text><text class="num" x="208.87" y="284.42">0.81</text><text class="num" x="223.54" y="284.42">-0.31</text><text class="num" x="238.21" y="284.42">0.88</text><text class="num" x="252.88" y="284.42">-0.26</text><text class="num" x="267.55" y="284.42">0.06</text><text class="num" x="282.21" y="284.42">1.00</text><text class="num" x="296.88" y="284.42">0.06</text><text class="num" x="311.55" y="284.42">0.31</text><text class="num" x="326.22" y="284.42">0.44</text><text class="num" x="340.89" y="284.42">0.20</text><text class="num" x="355.55" y="284.42">0.35</text><text class="num" x="370.22" y="284.42">0.60</text><text class="num" x="384.89" y="284.42">0.01</text><text class="num" x="399.56" y="284.42">-0.10</text><text class="num" x="414.23" y="284.42">-0.06</text><text class="num" x="428.89" y="284.42">-0.30</text><text class="num" x="443.56" y="284.42">-0.55</text><text class="num" x="458.23" y="284.42">0.23</text><text class="num" x="472.90" y="284.42">0.60</text><text class="num" x="487.57" y="284.42">0.56</text><text class="num" x="135.53" y="299.16">-0.32</text><text class="num" x="150.20" y="299.16">-0.21</text><text class="num" x="164.87" y="299.16">-0.19</text><text class="num" x="179.54" y="299.16">-0.16</text><text class="num" x="194.21" y="299.16">-0.13</text><text class="num" x="208.87" y="299.16">0.41</text><text class="num" x="223.54" y="299.16">-0.40</text><text class="num" x="238.21" y="299.16">0.42</text><text class="num" x="252.88" y="299.16">-0.38</text><text class="num" x="267.55" y="299.16">1.00</text><text class="num" x="282.21" y="299.16">0.06</text><text class="num" x="296.88" y="299.16">1.00</text><text class="num" x="311.55" y="299.16">0.05</text><text class="num" x="326.22" y="299.16">0.15</text><text class="num" x="340.89" y="299.16">0.15</text><text class="num" x="355.55" y="299.16">0.35</text><text class="num" x="370.22" y="299.16">0.32</text><text class="num" x="384.89" y="299.16">0.15</text><text class="num" x="399.56" y="299.16">-0.15</text><text class="num" x="414.23" y="299.16">-0.13</text><text class="num" x="428.89" y="299.16">0.04</text><text class="num" x="443.56" y="299.16">-0.04</text><text class="num" x="458.23" y="299.16">-0.02</text><text class="num" x="472.90" y="299.16">0.30</text><text class="num" x="487.57" y="299.16">0.30</text><text class="num" x="135.53" y="313.90">-0.23</text><text class="num" x="150.20" y="313.90">-0.15</text><text class="num" x="164.87" y="313.90">-0.07</text><text class="num" x="179.54" y="313.90">-0.42</text><text class="num" x="194.21" y="313.90">0.00</text><text class="num" x="208.87" y="313.90">0.28</text><text class="num" x="223.54" y="313.90">-0.01</text><text class="num" x="238.21" y="313.90">0.28</text><text class="num" x="252.88" y="313.90">0.03</text><text class="num" x="267.55" y="313.90">0.05</text><text class="num" x="282.21" y="313.90">0.31</text><text class="num" x="296.88" y="313.90">0.05</text><text class="num" x="311.55" y="313.90">1.00</text><text class="num" x="326.22" y="313.90">0.88</text><text class="num" x="340.89" y="313.90">0.18</text><text class="num" x="355.55" y="313.90">0.19</text><text class="num" x="370.22" y="313.90">0.33</text><text class="num" x="384.89" y="313.90">-0.05</text><text class="num" x="399.56" y="313.90">-0.03</text><text class="num" x="414.23" y="313.90">0.02</text><text class="num" x="428.89" y="313.90">-0.23</text><text class="num" x="443.56" y="313.90">-0.38</text><text class="num" x="458.23" y="313.90">-0.04</text><text class="num" x="472.90" y="313.90">0.16</text><text class="num" x="487.57" y="313.90">0.33</text><text class="num" x="135.53" y="328.64">-0.34</text><text class="num" x="150.20" y="328.64">-0.32</text><text class="num" x="164.87" y="328.64">-0.24</text><text class="num" x="179.54" y="328.64">-0.58</text><text class="num" x="194.21" y="328.64">-0.12</text><text class="num" x="208.87" y="328.64">0.42</text><text class="num" x="223.54" y="328.64">-0.08</text><text class="num" x="238.21" y="328.64">0.46</text><text class="num" x="252.88" y="328.64">-0.02</text><text class="num" x="267.55" y="328.64">0.15</text><text class="num" x="282.21" y="328.64">0.44</text><text class="num" x="296.88" y="328.64">0.15</text><text class="num" x="311.55" y="328.64">0.88</text><text class="num" x="326.22" y="328.64">1.00</text><text class="num" x="340.89" y="328.64">0.18</text><text class="num" x="355.55" y="328.64">0.27</text><text class="num" x="370.22" y="328.64">0.46</text><text class="num" x="384.89" y="328.64">-0.01</text><text class="num" x="399.56" y="328.64">-0.13</text><text class="num" x="414.23" y="328.64">-0.06</text><text class="num" x="428.89" y="328.64">-0.32</text><text class="num" x="443.56" y="328.64">-0.52</text><text class="num" x="458.23" y="328.64">0.01</text><text class="num" x="472.90" y="328.64">0.25</text><text class="num" x="487.57" y="328.64">0.43</text><text class="num" x="135.53" y="343.38">-0.18</text><text class="num" x="150.20" y="343.38">-0.52</text><text class="num" x="164.87" y="343.38">-0.56</text><text class="num" x="179.54" y="343.38">-0.32</text><text class="num" x="194.21" y="343.38">-0.21</text><text class="num" x="208.87" y="343.38">0.10</text><text class="num" x="223.54" y="343.38">0.04</text><text class="num" x="238.21" y="343.38">0.27</text><text class="num" x="252.88" y="343.38">0.16</text><text class="num" x="267.55" y="343.38">0.15</text><text class="num" x="282.21" y="343.38">0.20</text><text class="num" x="296.88" y="343.38">0.15</text><text class="num" x="311.55" y="343.38">0.18</text><text class="num" x="326.22" y="343.38">0.18</text><text class="num" x="340.89" y="343.38">1.00</text><text class="num" x="355.55" y="343.38">0.78</text><text class="num" x="370.22" y="343.38">-0.03</text><text class="num" x="384.89" y="343.38">0.00</text><text class="num" x="399.56" y="343.38">-0.76</text><text class="num" x="414.23" y="343.38">-0.73</text><text class="num" x="428.89" y="343.38">0.24</text><text class="num" x="443.56" y="343.38">-0.07</text><text class="num" x="458.23" y="343.38">0.00</text><text class="num" x="472.90" y="343.38">0.13</text><text class="num" x="487.57" y="343.38">0.22</text><text class="num" x="135.53" y="358.12">-0.30</text><text class="num" x="150.20" y="358.12">-0.51</text><text class="num" x="164.87" y="358.12">-0.45</text><text class="num" x="179.54" y="358.12">-0.43</text><text class="num" x="194.21" y="358.12">-0.41</text><text class="num" x="208.87" y="358.12">0.35</text><text class="num" x="223.54" y="358.12">-0.02</text><text class="num" x="238.21" y="358.12">0.44</text><text class="num" x="252.88" y="358.12">0.08</text><text class="num" x="267.55" y="358.12">0.36</text><text class="num" x="282.21" y="358.12">0.35</text><text class="num" x="296.88" y="358.12">0.35</text><text class="num" x="311.55" y="358.12">0.19</text><text class="num" x="326.22" y="358.12">0.27</text><text class="num" x="340.89" y="358.12">0.78</text><text class="num" x="355.55" y="358.12">1.00</text><text class="num" x="370.22" y="358.12">0.19</text><text class="num" x="384.89" y="358.12">0.13</text><text class="num" x="399.56" y="358.12">-0.64</text><text class="num" x="414.23" y="358.12">-0.58</text><text class="num" x="428.89" y="358.12">0.03</text><text class="num" x="443.56" y="358.12">-0.24</text><text class="num" x="458.23" y="358.12">0.00</text><text class="num" x="472.90" y="358.12">0.26</text><text class="num" x="487.57" y="358.12">0.33</text><text class="num" x="135.53" y="372.86">-0.43</text><text class="num" x="150.20" y="372.86">-0.16</text><text class="num" x="164.87" y="372.86">-0.17</text><text class="num" x="179.54" y="372.86">-0.61</text><text class="num" x="194.21" y="372.86">-0.07</text><text class="num" x="208.87" y="372.86">0.61</text><text class="num" x="223.54" y="372.86">-0.39</text><text class="num" x="238.21" y="372.86">0.61</text><text class="num" x="252.88" y="372.86">-0.37</text><text class="num" x="267.55" y="372.86">0.32</text><text class="num" x="282.21" y="372.86">0.60</text><text class="num" x="296.88" y="372.86">0.32</text><text class="num" x="311.55" y="372.86">0.33</text><text class="num" x="326.22" y="372.86">0.46</text><text class="num" x="340.89" y="372.86">-0.03</text><text class="num" x="355.55" y="372.86">0.19</text><text class="num" x="370.22" y="372.86">1.00</text><text class="num" x="384.89" y="372.86">0.07</text><text class="num" x="399.56" y="372.86">0.16</text><text class="num" x="414.23" y="372.86">0.18</text><text class="num" x="428.89" y="372.86">-0.25</text><text class="num" x="443.56" y="372.86">-0.55</text><text class="num" x="458.23" y="372.86">-0.03</text><text class="num" x="472.90" y="372.86">0.51</text><text class="num" x="487.57" y="372.86">0.87</text><text class="num" x="135.53" y="387.60">-0.17</text><text class="num" x="150.20" y="387.60">-0.02</text><text class="num" x="164.87" y="387.60">-0.08</text><text class="num" x="179.54" y="387.60">0.05</text><text class="num" x="194.21" y="387.60">-0.05</text><text class="num" x="208.87" y="387.60">0.08</text><text class="num" x="223.54" y="387.60">-0.38</text><text class="num" x="238.21" y="387.60">0.07</text><text class="num" x="252.88" y="387.60">-0.33</text><text class="num" x="267.55" y="387.60">0.15</text><text class="num" x="282.21" y="387.60">0.01</text><text class="num" x="296.88" y="387.60">0.15</text><text class="num" x="311.55" y="387.60">-0.05</text><text class="num" x="326.22" y="387.60">-0.01</text><text class="num" x="340.89" y="387.60">0.00</text><text class="num" x="355.55" y="387.60">0.13</text><text class="num" x="370.22" y="387.60">0.07</text><text class="num" x="384.89" y="387.60">1.00</text><text class="num" x="399.56" y="387.60">-0.06</text><text class="num" x="414.23" y="387.60">-0.06</text><text class="num" x="428.89" y="387.60">-0.04</text><text class="num" x="443.56" y="387.60">0.03</text><text class="num" x="458.23" y="387.60">0.15</text><text class="num" x="472.90" y="387.60">0.04</text><text class="num" x="487.57" y="387.60">0.02</text><text class="num" x="135.53" y="402.34">0.09</text><text class="num" x="150.20" y="402.34">0.45</text><text class="num" x="164.87" y="402.34">0.54</text><text class="num" x="179.54" y="402.34">0.14</text><text class="num" x="194.21" y="402.34">0.40</text><text class="num" x="208.87" y="402.34">-0.07</text><text class="num" x="223.54" y="402.34">-0.07</text><text class="num" x="238.21" y="402.34">-0.20</text><text class="num" x="252.88" y="402.34">-0.17</text><text class="num" x="267.55" y="402.34">-0.17</text><text class="num" x="282.21" y="402.34">-0.10</text><text class="num" x="296.88" y="402.34">-0.15</text><text class="num" x="311.55" y="402.34">-0.03</text><text class="num" x="326.22" y="402.34">-0.13</text><text class="num" x="340.89" y="402.34">-0.76</text><text class="num" x="355.55" y="402.34">-0.64</text><text class="num" x="370.22" y="402.34">0.16</text><text class="num" x="384.89" y="402.34">-0.06</text><text class="num" x="399.56" y="402.34">1.00</text><text class="num" x="414.23" y="402.34">0.97</text><text class="num" x="428.89" y="402.34">-0.24</text><text class="num" x="443.56" y="402.34">-0.05</text><text class="num" x="458.23" y="402.34">-0.05</text><text class="num" x="472.90" y="402.34">-0.14</text><text class="num" x="487.57" y="402.34">0.02</text><text class="num" x="135.53" y="417.08">0.13</text><text class="num" x="150.20" y="417.08">0.49</text><text class="num" x="164.87" y="417.08">0.62</text><text class="num" x="179.54" y="417.08">0.07</text><text class="num" x="194.21" y="417.08">0.36</text><text class="num" x="208.87" y="417.08">-0.02</text><text class="num" x="223.54" y="417.08">-0.07</text><text class="num" x="238.21" y="417.08">-0.16</text><text class="num" x="252.88" y="417.08">-0.15</text><text class="num" x="267.55" y="417.08">-0.13</text><text class="num" x="282.21" y="417.08">-0.06</text><text class="num" x="296.88" y="417.08">-0.13</text><text class="num" x="311.55" y="417.08">0.02</text><text class="num" x="326.22" y="417.08">-0.06</text><text class="num" x="340.89" y="417.08">-0.73</text><text class="num" x="355.55" y="417.08">-0.58</text><text class="num" x="370.22" y="417.08">0.18</text><text class="num" x="384.89" y="417.08">-0.06</text><text class="num" x="399.56" y="417.08">0.97</text><text class="num" x="414.23" y="417.08">1.00</text><text class="num" x="428.89" y="417.08">-0.21</text><text class="num" x="443.56" y="417.08">-0.06</text><text class="num" x="458.23" y="417.08">-0.06</text><text class="num" x="472.90" y="417.08">-0.16</text><text class="num" x="487.57" y="417.08">0.03</text><text class="num" x="135.53" y="431.82">0.28</text><text class="num" x="150.20" y="431.82">0.06</text><text class="num" x="164.87" y="431.82">-0.02</text><text class="num" x="179.54" y="431.82">0.27</text><text class="num" x="194.21" y="431.82">0.12</text><text class="num" x="208.87" y="431.82">-0.30</text><text class="num" x="223.54" y="431.82">0.09</text><text class="num" x="238.21" y="431.82">-0.20</text><text class="num" x="252.88" y="431.82">0.10</text><text class="num" x="267.55" y="431.82">0.05</text><text class="num" x="282.21" y="431.82">-0.30</text><text class="num" x="296.88" y="431.82">0.04</text><text class="num" x="311.55" y="431.82">-0.23</text><text class="num" x="326.22" y="431.82">-0.32</text><text class="num" x="340.89" y="431.82">0.24</text><text class="num" x="355.55" y="431.82">0.03</text><text class="num" x="370.22" y="431.82">-0.25</text><text class="num" x="384.89" y="431.82">-0.04</text><text class="num" x="399.56" y="431.82">-0.24</text><text class="num" x="414.23" y="431.82">-0.21</text><text class="num" x="428.89" y="431.82">1.00</text><text class="num" x="443.56" y="431.82">0.72</text><text class="num" x="458.23" y="431.82">-0.19</text><text class="num" x="472.90" y="431.82">-0.20</text><text class="num" x="487.57" y="431.82">-0.24</text><text class="num" x="135.53" y="446.56">0.42</text><text class="num" x="150.20" y="446.56">0.32</text><text class="num" x="164.87" y="446.56">0.14</text><text class="num" x="179.54" y="446.56">0.65</text><text class="num" x="194.21" y="446.56">0.10</text><text class="num" x="208.87" y="446.56">-0.45</text><text class="num" x="223.54" y="446.56">0.06</text><text class="num" x="238.21" y="446.56">-0.42</text><text class="num" x="252.88" y="446.56">0.01</text><text class="num" x="267.55" y="446.56">-0.04</text><text class="num" x="282.21" y="446.56">-0.55</text><text class="num" x="296.88" y="446.56">-0.04</text><text class="num" x="311.55" y="446.56">-0.38</text><text class="num" x="326.22" y="446.56">-0.52</text><text class="num" x="340.89" y="446.56">-0.07</text><text class="num" x="355.55" y="446.56">-0.24</text><text class="num" x="370.22" y="446.56">-0.55</text><text class="num" x="384.89" y="446.56">0.03</text><text class="num" x="399.56" y="446.56">-0.05</text><text class="num" x="414.23" y="446.56">-0.06</text><text class="num" x="428.89" y="446.56">0.72</text><text class="num" x="443.56" y="446.56">1.00</text><text class="num" x="458.23" y="446.56">-0.24</text><text class="num" x="472.90" y="446.56">-0.32</text><text class="num" x="487.57" y="446.56">-0.65</text><text class="num" x="135.53" y="461.30">-0.11</text><text class="num" x="150.20" y="461.30">0.00</text><text class="num" x="164.87" y="461.30">0.03</text><text class="num" x="179.54" y="461.30">-0.05</text><text class="num" x="194.21" y="461.30">-0.20</text><text class="num" x="208.87" y="461.30">0.06</text><text class="num" x="223.54" y="461.30">-0.17</text><text class="num" x="238.21" y="461.30">0.10</text><text class="num" x="252.88" y="461.30">-0.16</text><text class="num" x="267.55" y="461.30">-0.03</text><text class="num" x="282.21" y="461.30">0.23</text><text class="num" x="296.88" y="461.30">-0.02</text><text class="num" x="311.55" y="461.30">-0.04</text><text class="num" x="326.22" y="461.30">0.01</text><text class="num" x="340.89" y="461.30">0.00</text><text class="num" x="355.55" y="461.30">0.00</text><text class="num" x="370.22" y="461.30">-0.03</text><text class="num" x="384.89" y="461.30">0.15</text><text class="num" x="399.56" y="461.30">-0.05</text><text class="num" x="414.23" y="461.30">-0.06</text><text class="num" x="428.89" y="461.30">-0.19</text><text class="num" x="443.56" y="461.30">-0.24</text><text class="num" x="458.23" y="461.30">1.00</text><text class="num" x="472.90" y="461.30">0.19</text><text class="num" x="487.57" y="461.30">-0.01</text><text class="num" x="135.53" y="476.04">-0.39</text><text class="num" x="150.20" y="476.04">-0.31</text><text class="num" x="164.87" y="476.04">-0.34</text><text class="num" x="179.54" y="476.04">-0.39</text><text class="num" x="194.21" y="476.04">-0.52</text><text class="num" x="208.87" y="476.04">0.62</text><text class="num" x="223.54" y="476.04">-0.28</text><text class="num" x="238.21" y="476.04">0.62</text><text class="num" x="252.88" y="476.04">-0.26</text><text class="num" x="267.55" y="476.04">0.29</text><text class="num" x="282.21" y="476.04">0.60</text><text class="num" x="296.88" y="476.04">0.30</text><text class="num" x="311.55" y="476.04">0.16</text><text class="num" x="326.22" y="476.04">0.25</text><text class="num" x="340.89" y="476.04">0.13</text><text class="num" x="355.55" y="476.04">0.26</text><text class="num" x="370.22" y="476.04">0.51</text><text class="num" x="384.89" y="476.04">0.04</text><text class="num" x="399.56" y="476.04">-0.14</text><text class="num" x="414.23" y="476.04">-0.16</text><text class="num" x="428.89" y="476.04">-0.20</text><text class="num" x="443.56" y="476.04">-0.32</text><text class="num" x="458.23" y="476.04">0.19</text><text class="num" x="472.90" y="476.04">1.00</text><text class="num" x="487.57" y="476.04">0.44</text><text class="num" x="135.53" y="490.78">-0.36</text><text class="num" x="150.20" y="490.78">-0.23</text><text class="num" x="164.87" y="490.78">-0.25</text><text class="num" x="179.54" y="490.78">-0.67</text><text class="num" x="194.21" y="490.78">0.04</text><text class="num" x="208.87" y="490.78">0.51</text><text class="num" x="223.54" y="490.78">-0.24</text><text class="num" x="238.21" y="490.78">0.57</text><text class="num" x="252.88" y="490.78">-0.22</text><text class="num" x="267.55" y="490.78">0.30</text><text class="num" x="282.21" y="490.78">0.56</text><text class="num" x="296.88" y="490.78">0.30</text><text class="num" x="311.55" y="490.78">0.33</text><text class="num" x="326.22" y="490.78">0.43</text><text class="num" x="340.89" y="490.78">0.22</text><text class="num" x="355.55" y="490.78">0.33</text><text class="num" x="370.22" y="490.78">0.87</text><text class="num" x="384.89" y="490.78">0.02</text><text class="num" x="399.56" y="490.78">0.02</text><text class="num" x="414.23" y="490.78">0.03</text><text class="num" x="428.89" y="490.78">-0.24</text><text class="num" x="443.56" y="490.78">-0.65</text><text class="num" x="458.23" y="490.78">-0.01</text><text class="num" x="472.90" y="490.78">0.44</text><text class="num" x="487.57" y="490.78">1.00</text>
<text class="lab" x="118.6" y="138.41" text-anchor="end">BMI</text>
<text class="lab" x="118.6" y="153.15" text-anchor="end">FPG</text>
<text class="lab" x="118.6" y="167.89" text-anchor="end">HbA1c</text>
<text class="lab" x="118.6" y="182.63" text-anchor="end">TG</text>
<text class="lab" x="118.6" y="197.37" text-anchor="end">LDL-C</text>
<text class="lab" x="118.6" y="212.11" text-anchor="end">C 16 Sphingosine</text>
<text class="lab" x="118.6" y="226.85" text-anchor="end">C 17 Sphingosine</text>
<text class="lab" x="118.6" y="241.59" text-anchor="end">C 16Sphinganine</text>
<text class="lab" x="118.6" y="256.33" text-anchor="end">C 17 Sphinganine</text>
<text class="lab" x="118.6" y="271.07" text-anchor="end">N,N-dimethyl-Safingol</text>
<text class="lab" x="118.6" y="285.81" text-anchor="end">Phytosphingosine</text>
<text class="lab" x="118.6" y="300.55" text-anchor="end">Sphinganine</text>
<text class="lab" x="118.6" y="315.29" text-anchor="end">SM(d18:1/24:1)</text>
<text class="lab" x="118.6" y="330.03" text-anchor="end">SM(d18:2/24:1)</text>
<text class="lab" x="118.6" y="344.77" text-anchor="end">LysoPC(18:0)</text>
<text class="lab" x="118.6" y="359.51" text-anchor="end">LysoPC(18:1)</text>
<text class="lab" x="118.6" y="374.25" text-anchor="end">PC(16:0/18:2)</text>
<text class="lab" x="118.6" y="388.99" text-anchor="end">PC(18:0/18:0)</text>
<text class="lab" x="118.6" y="403.73" text-anchor="end">PE(P-16:0/22:6)</text>
<text class="lab" x="118.6" y="418.47" text-anchor="end">PE(P-18:0/20:4)</text>
<text class="lab" x="118.6" y="433.21" text-anchor="end">TG(16:0/16:0/18:0)</text>
<text class="lab" x="118.6" y="447.95" text-anchor="end">TG(16:0/18:1/18:0)</text>
<text class="lab" x="118.6" y="462.69" text-anchor="end">TG(16:0/18:1/22:6)</text>
<text class="lab" x="118.6" y="477.43" text-anchor="end">TG(16:1/18:1/18:1)</text>
<text class="lab" x="118.6" y="492.17" text-anchor="end">CE(18:2)</text>
<text class="lab" style="font-size:12.05px" transform="translate(136.53,117.6) rotate(-90)" x="0" y="0">BMI</text>
<text class="lab" style="font-size:12.05px" transform="translate(151.20,117.6) rotate(-90)" x="0" y="0">FPG</text>
<text class="lab" style="font-size:12.05px" transform="translate(165.87,117.6) rotate(-90)" x="0" y="0">HbA1c</text>
<text class="lab" style="font-size:12.05px" transform="translate(180.54,117.6) rotate(-90)" x="0" y="0">TG</text>
<text class="lab" style="font-size:12.05px" transform="translate(195.21,117.6) rotate(-90)" x="0" y="0">LDL-C</text>
<text class="lab" style="font-size:12.05px" transform="translate(209.87,117.6) rotate(-90)" x="0" y="0">C 16 Sphingosine</text>
<text class="lab" style="font-size:12.05px" transform="translate(224.54,117.6) rotate(-90)" x="0" y="0">C 17 Sphingosine</text>
<text class="lab" style="font-size:12.05px" transform="translate(239.21,117.6) rotate(-90)" x="0" y="0">C 16Sphinganine</text>
<text class="lab" style="font-size:12.05px" transform="translate(253.88,117.6) rotate(-90)" x="0" y="0">C 17 Sphinganine</text>
<text class="lab" style="font-size:12.05px" transform="translate(268.55,117.6) rotate(-90)" x="0" y="0">N,N-dimethyl-Safingol</text>
<text class="lab" style="font-size:12.05px" transform="translate(283.21,117.6) rotate(-90)" x="0" y="0">Phytosphingosine</text>
<text class="lab" style="font-size:12.05px" transform="translate(297.88,117.6) rotate(-90)" x="0" y="0">Sphinganine</text>
<text class="lab" style="font-size:12.05px" transform="translate(312.55,117.6) rotate(-90)" x="0" y="0">SM(d18:1/24:1)</text>
<text class="lab" style="font-size:12.05px" transform="translate(327.22,117.6) rotate(-90)" x="0" y="0">SM(d18:2/24:1)</text>
<text class="lab" style="font-size:12.05px" transform="translate(341.89,117.6) rotate(-90)" x="0" y="0">LysoPC(18:0)</text>
<text class="lab" style="font-size:12.05px" transform="translate(356.55,117.6) rotate(-90)" x="0" y="0">LysoPC(18:1)</text>
<text class="lab" style="font-size:12.05px" transform="translate(371.22,117.6) rotate(-90)" x="0" y="0">PC(16:0/18:2)</text>
<text class="lab" style="font-size:12.05px" transform="translate(385.89,117.6) rotate(-90)" x="0" y="0">PC(18:0/18:0)</text>
<text class="lab" style="font-size:12.05px" transform="translate(400.56,117.6) rotate(-90)" x="0" y="0">PE(P-16:0/22:6)</text>
<text class="lab" style="font-size:12.05px" transform="translate(415.23,117.6) rotate(-90)" x="0" y="0">PE(P-18:0/20:4)</text>
<text class="lab" style="font-size:12.05px" transform="translate(429.89,117.6) rotate(-90)" x="0" y="0">TG(16:0/16:0/18:0)</text>
<text class="lab" style="font-size:12.05px" transform="translate(444.56,117.6) rotate(-90)" x="0" y="0">TG(16:0/18:1/18:0)</text>
<text class="lab" style="font-size:12.05px" transform="translate(459.23,117.6) rotate(-90)" x="0" y="0">TG(16:0/18:1/22:6)</text>
<text class="lab" style="font-size:12.05px" transform="translate(473.90,117.6) rotate(-90)" x="0" y="0">TG(16:1/18:1/18:1)</text>
<text class="lab" style="font-size:12.05px" transform="translate(488.57,117.6) rotate(-90)" x="0" y="0">CE(18:2)</text>
<defs><linearGradient id="cg" x1="0" y1="0" x2="0" y2="1"><stop offset="0.000" stop-color="#053061"/><stop offset="0.010" stop-color="#083568"/><stop offset="0.020" stop-color="#0b3b70"/><stop offset="0.030" stop-color="#0d4078"/><stop offset="0.040" stop-color="#10467f"/><stop offset="0.050" stop-color="#134b86"/><stop offset="0.060" stop-color="#16508e"/><stop offset="0.070" stop-color="#195696"/><stop offset="0.080" stop-color="#1b5b9d"/><stop offset="0.090" stop-color="#1e61a5"/><stop offset="0.100" stop-color="#2166ac"/><stop offset="0.110" stop-color="#246aae"/><stop offset="0.120" stop-color="#286fb1"/><stop offset="0.130" stop-color="#2b74b3"/><stop offset="0.140" stop-color="#2f78b5"/><stop offset="0.150" stop-color="#327cb8"/><stop offset="0.160" stop-color="#3581ba"/><stop offset="0.170" stop-color="#3986bc"/><stop offset="0.180" stop-color="#3c8abe"/><stop offset="0.190" stop-color="#408ec1"/><stop offset="0.200" stop-color="#4393c3"/><stop offset="0.210" stop-color="#4b98c6"/><stop offset="0.220" stop-color="#539dc8"/><stop offset="0.230" stop-color="#5ba2cb"/><stop offset="0.240" stop-color="#63a7ce"/><stop offset="0.250" stop-color="#6aacd0"/><stop offset="0.260" stop-color="#72b1d3"/><stop offset="0.270" stop-color="#7ab6d6"/><stop offset="0.280" stop-color="#82bbd9"/><stop offset="0.290" stop-color="#8ac0db"/><stop offset="0.300" stop-color="#92c5de"/><stop offset="0.310" stop-color="#98c8e0"/><stop offset="0.320" stop-color="#9fcbe2"/><stop offset="0.330" stop-color="#a5cfe3"/><stop offset="0.340" stop-color="#abd2e5"/><stop offset="0.350" stop-color="#b2d5e7"/><stop offset="0.360" stop-color="#b8d8e9"/><stop offset="0.370" stop-color="#bedbeb"/><stop offset="0.380" stop-color="#c4dfec"/><stop offset="0.390" stop-color="#cbe2ee"/><stop offset="0.400" stop-color="#d1e5f0"/><stop offset="0.410" stop-color="#d6e8f2"/><stop offset="0.420" stop-color="#daeaf3"/><stop offset="0.430" stop-color="#dfedf4"/><stop offset="0.440" stop-color="#e3eff6"/><stop offset="0.450" stop-color="#e8f2f8"/><stop offset="0.460" stop-color="#edf5f9"/><stop offset="0.470" stop-color="#f1f7fa"/><stop offset="0.480" stop-color="#f6fafc"/><stop offset="0.490" stop-color="#fafcfe"/><stop offset="0.500" stop-color="#ffffff"/><stop offset="0.510" stop-color="#fffbf9"/><stop offset="0.520" stop-color="#fff8f4"/><stop offset="0.530" stop-color="#fef4ee"/><stop offset="0.540" stop-color="#fef1e9"/><stop offset="0.550" stop-color="#feede3"/><stop offset="0.560" stop-color="#fee9dd"/><stop offset="0.570" stop-color="#fee6d8"/><stop offset="0.580" stop-color="#fde2d2"/><stop offset="0.590" stop-color="#fddfcd"/><stop offset="0.600" stop-color="#fddbc7"/><stop offset="0.610" stop-color="#fcd6c0"/><stop offset="0.620" stop-color="#fbd0b9"/><stop offset="0.630" stop-color="#facbb2"/><stop offset="0.640" stop-color="#f9c5ab"/><stop offset="0.650" stop-color="#f8c0a4"/><stop offset="0.660" stop-color="#f8bb9e"/><stop offset="0.670" stop-color="#f7b597"/><stop offset="0.680" stop-color="#f6b090"/><stop offset="0.690" stop-color="#f5aa89"/><stop offset="0.700" stop-color="#f4a582"/><stop offset="0.710" stop-color="#f19e7d"/><stop offset="0.720" stop-color="#ee9777"/><stop offset="0.730" stop-color="#eb9072"/><stop offset="0.740" stop-color="#e8896d"/><stop offset="0.750" stop-color="#e58268"/><stop offset="0.760" stop-color="#e27c62"/><stop offset="0.770" stop-color="#df755d"/><stop offset="0.780" stop-color="#dc6e58"/><stop offset="0.790" stop-color="#d96752"/><stop offset="0.800" stop-color="#d6604d"/><stop offset="0.810" stop-color="#d2594a"/><stop offset="0.820" stop-color="#cf5246"/><stop offset="0.830" stop-color="#cb4a43"/><stop offset="0.840" stop-color="#c8433f"/><stop offset="0.850" stop-color="#c43c3c"/><stop offset="0.860" stop-color="#c03539"/><stop offset="0.870" stop-color="#bd2e35"/><stop offset="0.880" stop-color="#b92632"/><stop offset="0.890" stop-color="#b61f2e"/><stop offset="0.900" stop-color="#b2182b"/><stop offset="0.910" stop-color="#aa162a"/><stop offset="0.920" stop-color="#a31329"/><stop offset="0.930" stop-color="#9b1127"/><stop offset="0.940" stop-color="#940e26"/><stop offset="0.950" stop-color="#8d0c25"/><stop offset="0.960" stop-color="#850a24"/><stop offset="0.970" stop-color="#7e0723"/><stop offset="0.980" stop-color="#760521"/><stop offset="0.990" stop-color="#6e0220"/><stop offset="1.000" stop-color="#67001f"/></linearGradient></defs>
<rect x="501.30" y="127.50" width="14.00" height="367.80" fill="url(#cg)" stroke="#9a9a9a" stroke-width="0.8"/>
<text class="cl" x="526.50" y="132.70">1</text>
<text class="cl" x="526.50" y="169.48">0.8</text>
<text class="cl" x="526.50" y="206.26">0.6</text>
<text class="cl" x="526.50" y="243.04">0.4</text>
<text class="cl" x="526.50" y="279.82">0.2</text>
<text class="cl" x="526.50" y="316.60">0</text>
<text class="cl" x="519.90" y="353.38">−0.2</text>
<text class="cl" x="519.90" y="390.16">−0.4</text>
<text class="cl" x="519.90" y="426.94">−0.6</text>
<text class="cl" x="519.90" y="463.72">−0.8</text>
<text class="cl" x="519.90" y="500.50">−1.0</text>
<path d="M515.30 127.50H518.80M515.30 164.28H518.80M515.30 201.06H518.80M515.30 237.84H518.80M515.30 274.62H518.80M515.30 311.40H518.80M515.30 348.18H518.80M515.30 384.96H518.80M515.30 421.74H518.80M515.30 458.52H518.80M515.30 495.30H518.80" stroke="#555" stroke-width="0.8"/>
</svg></body></html>
